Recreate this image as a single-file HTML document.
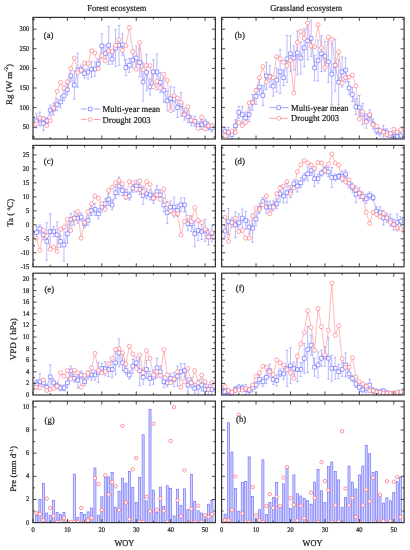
<!DOCTYPE html>
<html><head><meta charset="utf-8"><style>
html,body{margin:0;padding:0;background:#fff;width:410px;height:550px;overflow:hidden}
svg{display:block;filter:blur(0.3px)}
text{stroke:#222;stroke-width:0.22px;paint-order:stroke;text-rendering:geometricPrecision}
</style></head><body>
<svg width="410" height="550" viewBox="0 0 410 550" font-family="'Liberation Serif', 'Times New Roman', serif">
<rect width="410" height="550" fill="#fff"/>
<defs><clipPath id="ca"><rect x="33.0" y="17.4" width="182.4" height="121.6"/></clipPath><clipPath id="cb"><rect x="221.6" y="17.4" width="182.5" height="121.6"/></clipPath><clipPath id="cc"><rect x="33.0" y="145.4" width="182.4" height="121.4"/></clipPath><clipPath id="cd"><rect x="221.6" y="145.4" width="182.5" height="121.4"/></clipPath><clipPath id="ce"><rect x="33.0" y="273.2" width="182.4" height="121.8"/></clipPath><clipPath id="cf"><rect x="221.6" y="273.2" width="182.5" height="121.8"/></clipPath><clipPath id="cg"><rect x="33.0" y="401.1" width="182.4" height="121.5"/></clipPath><clipPath id="ch"><rect x="221.6" y="401.1" width="182.5" height="121.5"/></clipPath></defs>
<g clip-path="url(#ca)">
<path d="M36.44 113.82V127.82M35.14 113.82h2.6M35.14 127.82h2.6M39.88 112.04V126.04M38.58 112.04h2.6M38.58 126.04h2.6M43.32 116.48V130.48M42.02 116.48h2.6M42.02 130.48h2.6M46.77 117.82V123.82M45.47 117.82h2.6M45.47 123.82h2.6M50.21 105.17V115.17M48.91 105.17h2.6M48.91 115.17h2.6M53.65 103.06V115.06M52.35 103.06h2.6M52.35 115.06h2.6M57.09 98.62V110.62M55.79 98.62h2.6M55.79 110.62h2.6M60.53 95.96V107.96M59.23 95.96h2.6M59.23 107.96h2.6M63.97 90.75V100.75M62.67 90.75h2.6M62.67 100.75h2.6M67.42 84.76V94.76M66.12 84.76h2.6M66.12 94.76h2.6M70.86 69.78V81.78M69.56 69.78h2.6M69.56 81.78h2.6M74.3 71.1V99.1M73 71.1h2.6M73 99.1h2.6M77.74 53.24V87.24M76.44 53.24h2.6M76.44 87.24h2.6M81.18 65.13V73.13M79.88 65.13h2.6M79.88 73.13h2.6M84.62 69.07V78.07M83.32 69.07h2.6M83.32 78.07h2.6M88.06 65.01V79.01M86.76 65.01h2.6M86.76 79.01h2.6M91.51 61.13V77.13M90.21 61.13h2.6M90.21 77.13h2.6M94.95 62.13V76.13M93.65 62.13h2.6M93.65 76.13h2.6M98.39 59.03V69.03M97.09 59.03h2.6M97.09 69.03h2.6M101.83 33.84V57.84M100.53 33.84h2.6M100.53 57.84h2.6M105.27 45V62.2M103.97 45h2.6M103.97 62.2h2.6M108.71 26.39V64.39M107.41 26.39h2.6M107.41 64.39h2.6M112.15 54.15V64.15M110.85 54.15h2.6M110.85 64.15h2.6M115.6 29.56V66.56M114.3 29.56h2.6M114.3 66.56h2.6M119.04 25.39V65.39M117.74 25.39h2.6M117.74 65.39h2.6M122.48 33.73V55.73M121.18 33.73h2.6M121.18 55.73h2.6M125.92 59.58V75.58M124.62 59.58h2.6M124.62 75.58h2.6M129.36 58.36V72.36M128.06 58.36h2.6M128.06 72.36h2.6M132.8 52.26V68.26M131.5 52.26h2.6M131.5 68.26h2.6M136.25 46.04V70.04M134.95 46.04h2.6M134.95 70.04h2.6M139.69 47.97V76.97M138.39 47.97h2.6M138.39 76.97h2.6M143.13 63V101M141.83 63h2.6M141.83 101h2.6M146.57 54.16V90.76M145.27 54.16h2.6M145.27 90.76h2.6M150.01 78.88V94.88M148.71 78.88h2.6M148.71 94.88h2.6M153.45 59.8V83.8M152.15 59.8h2.6M152.15 83.8h2.6M156.89 54.01V90.01M155.59 54.01h2.6M155.59 90.01h2.6M160.34 72.44V92.44M159.04 72.44h2.6M159.04 92.44h2.6M163.78 78.2V102.2M162.48 78.2h2.6M162.48 102.2h2.6M167.22 90.85V110.85M165.92 90.85h2.6M165.92 110.85h2.6M170.66 86.63V110.63M169.36 86.63h2.6M169.36 110.63h2.6M174.1 87.08V111.08M172.8 87.08h2.6M172.8 111.08h2.6M177.54 97.51V117.51M176.24 97.51h2.6M176.24 117.51h2.6M180.98 92.62V116.62M179.68 92.62h2.6M179.68 116.62h2.6M184.43 108.16V120.16M183.13 108.16h2.6M183.13 120.16h2.6M187.87 110.82V122.82M186.57 110.82h2.6M186.57 122.82h2.6M191.31 115.82V125.82M190.01 115.82h2.6M190.01 125.82h2.6M194.75 116.26V126.26M193.45 116.26h2.6M193.45 126.26h2.6M198.19 121.7V129.7M196.89 121.7h2.6M196.89 129.7h2.6M201.63 119.59V129.59M200.33 119.59h2.6M200.33 129.59h2.6M205.08 119.03V127.03M203.78 119.03h2.6M203.78 127.03h2.6M208.52 122.14V130.14M207.22 122.14h2.6M207.22 130.14h2.6M211.96 123.91V131.91M210.66 123.91h2.6M210.66 131.91h2.6" stroke="#8a8aff" stroke-width="0.6" fill="none"/>
<polyline points="36.44,120.82 39.88,119.04 43.32,123.48 46.77,120.82 50.21,110.17 53.65,109.06 57.09,104.62 60.53,101.96 63.97,95.75 67.42,89.76 70.86,75.78 74.3,85.1 77.74,70.24 81.18,69.13 84.62,73.57 88.06,72.01 91.51,69.13 94.95,69.13 98.39,64.03 101.83,45.84 105.27,53.6 108.71,45.39 112.15,59.15 115.6,48.06 119.04,45.39 122.48,44.73 125.92,67.58 129.36,65.36 132.8,60.26 136.25,58.04 139.69,62.47 143.13,82 146.57,72.46 150.01,86.88 153.45,71.8 156.89,72.01 160.34,82.44 163.78,90.2 167.22,100.85 170.66,98.63 174.1,99.08 177.54,107.51 180.98,104.62 184.43,114.16 187.87,116.82 191.31,120.82 194.75,121.26 198.19,125.7 201.63,124.59 205.08,123.03 208.52,126.14 211.96,127.91" stroke="#8a8aff" stroke-width="0.6" fill="none"/>
<polyline points="36.44,123.92 39.88,117.93 43.32,118.6 46.77,125.7 50.21,120.82 53.65,107.95 57.09,91.31 60.53,82.44 63.97,87.98 67.42,81.77 70.86,68.46 74.3,58.04 77.74,72.46 81.18,70.24 84.62,63.14 88.06,63.58 91.51,50.72 94.95,52.94 98.39,68.69 101.83,55.82 105.27,60.92 108.71,50.94 112.15,51.38 115.6,45.39 119.04,39.63 122.48,50.27 125.92,45.84 129.36,27.65 132.8,51.38 136.25,69.13 139.69,42.51 143.13,69.8 146.57,65.36 150.01,65.6 153.45,86.88 156.89,81.33 160.34,87.98 163.78,74.23 167.22,80.22 170.66,110.61 174.1,95.75 177.54,97.97 180.98,102.4 184.43,114.6 187.87,106.84 191.31,120.15 194.75,121.26 198.19,128.36 201.63,117.27 205.08,129.02 208.52,125.7 211.96,125.7" stroke="#ff8c8c" stroke-width="0.6" fill="none"/>
<path d="M34.59 118.97h3.7v3.7h-3.7zM38.03 117.19h3.7v3.7h-3.7zM41.47 121.63h3.7v3.7h-3.7zM44.92 118.97h3.7v3.7h-3.7zM48.36 108.32h3.7v3.7h-3.7zM51.8 107.21h3.7v3.7h-3.7zM55.24 102.77h3.7v3.7h-3.7zM58.68 100.11h3.7v3.7h-3.7zM62.12 93.9h3.7v3.7h-3.7zM65.57 87.91h3.7v3.7h-3.7zM69.01 73.93h3.7v3.7h-3.7zM72.45 83.25h3.7v3.7h-3.7zM75.89 68.39h3.7v3.7h-3.7zM79.33 67.28h3.7v3.7h-3.7zM82.77 71.72h3.7v3.7h-3.7zM86.21 70.16h3.7v3.7h-3.7zM89.66 67.28h3.7v3.7h-3.7zM93.1 67.28h3.7v3.7h-3.7zM96.54 62.18h3.7v3.7h-3.7zM99.98 43.99h3.7v3.7h-3.7zM103.42 51.75h3.7v3.7h-3.7zM106.86 43.54h3.7v3.7h-3.7zM110.3 57.3h3.7v3.7h-3.7zM113.75 46.21h3.7v3.7h-3.7zM117.19 43.54h3.7v3.7h-3.7zM120.63 42.88h3.7v3.7h-3.7zM124.07 65.73h3.7v3.7h-3.7zM127.51 63.51h3.7v3.7h-3.7zM130.95 58.41h3.7v3.7h-3.7zM134.4 56.19h3.7v3.7h-3.7zM137.84 60.62h3.7v3.7h-3.7zM141.28 80.15h3.7v3.7h-3.7zM144.72 70.61h3.7v3.7h-3.7zM148.16 85.03h3.7v3.7h-3.7zM151.6 69.95h3.7v3.7h-3.7zM155.04 70.16h3.7v3.7h-3.7zM158.49 80.59h3.7v3.7h-3.7zM161.93 88.35h3.7v3.7h-3.7zM165.37 99h3.7v3.7h-3.7zM168.81 96.78h3.7v3.7h-3.7zM172.25 97.23h3.7v3.7h-3.7zM175.69 105.66h3.7v3.7h-3.7zM179.13 102.77h3.7v3.7h-3.7zM182.58 112.31h3.7v3.7h-3.7zM186.02 114.97h3.7v3.7h-3.7zM189.46 118.97h3.7v3.7h-3.7zM192.9 119.41h3.7v3.7h-3.7zM196.34 123.85h3.7v3.7h-3.7zM199.78 122.74h3.7v3.7h-3.7zM203.23 121.18h3.7v3.7h-3.7zM206.67 124.29h3.7v3.7h-3.7zM210.11 126.06h3.7v3.7h-3.7z" stroke="#6a6aff" stroke-width="0.65" fill="#fff"/>
<path d="M34.44 123.92a2.0 2.0 0 1 0 4 0a2.0 2.0 0 1 0 -4 0zM37.88 117.93a2.0 2.0 0 1 0 4 0a2.0 2.0 0 1 0 -4 0zM41.32 118.6a2.0 2.0 0 1 0 4 0a2.0 2.0 0 1 0 -4 0zM44.77 125.7a2.0 2.0 0 1 0 4 0a2.0 2.0 0 1 0 -4 0zM48.21 120.82a2.0 2.0 0 1 0 4 0a2.0 2.0 0 1 0 -4 0zM51.65 107.95a2.0 2.0 0 1 0 4 0a2.0 2.0 0 1 0 -4 0zM55.09 91.31a2.0 2.0 0 1 0 4 0a2.0 2.0 0 1 0 -4 0zM58.53 82.44a2.0 2.0 0 1 0 4 0a2.0 2.0 0 1 0 -4 0zM61.97 87.98a2.0 2.0 0 1 0 4 0a2.0 2.0 0 1 0 -4 0zM65.42 81.77a2.0 2.0 0 1 0 4 0a2.0 2.0 0 1 0 -4 0zM68.86 68.46a2.0 2.0 0 1 0 4 0a2.0 2.0 0 1 0 -4 0zM72.3 58.04a2.0 2.0 0 1 0 4 0a2.0 2.0 0 1 0 -4 0zM75.74 72.46a2.0 2.0 0 1 0 4 0a2.0 2.0 0 1 0 -4 0zM79.18 70.24a2.0 2.0 0 1 0 4 0a2.0 2.0 0 1 0 -4 0zM82.62 63.14a2.0 2.0 0 1 0 4 0a2.0 2.0 0 1 0 -4 0zM86.06 63.58a2.0 2.0 0 1 0 4 0a2.0 2.0 0 1 0 -4 0zM89.51 50.72a2.0 2.0 0 1 0 4 0a2.0 2.0 0 1 0 -4 0zM92.95 52.94a2.0 2.0 0 1 0 4 0a2.0 2.0 0 1 0 -4 0zM96.39 68.69a2.0 2.0 0 1 0 4 0a2.0 2.0 0 1 0 -4 0zM99.83 55.82a2.0 2.0 0 1 0 4 0a2.0 2.0 0 1 0 -4 0zM103.27 60.92a2.0 2.0 0 1 0 4 0a2.0 2.0 0 1 0 -4 0zM106.71 50.94a2.0 2.0 0 1 0 4 0a2.0 2.0 0 1 0 -4 0zM110.15 51.38a2.0 2.0 0 1 0 4 0a2.0 2.0 0 1 0 -4 0zM113.6 45.39a2.0 2.0 0 1 0 4 0a2.0 2.0 0 1 0 -4 0zM117.04 39.63a2.0 2.0 0 1 0 4 0a2.0 2.0 0 1 0 -4 0zM120.48 50.27a2.0 2.0 0 1 0 4 0a2.0 2.0 0 1 0 -4 0zM123.92 45.84a2.0 2.0 0 1 0 4 0a2.0 2.0 0 1 0 -4 0zM127.36 27.65a2.0 2.0 0 1 0 4 0a2.0 2.0 0 1 0 -4 0zM130.8 51.38a2.0 2.0 0 1 0 4 0a2.0 2.0 0 1 0 -4 0zM134.25 69.13a2.0 2.0 0 1 0 4 0a2.0 2.0 0 1 0 -4 0zM137.69 42.51a2.0 2.0 0 1 0 4 0a2.0 2.0 0 1 0 -4 0zM141.13 69.8a2.0 2.0 0 1 0 4 0a2.0 2.0 0 1 0 -4 0zM144.57 65.36a2.0 2.0 0 1 0 4 0a2.0 2.0 0 1 0 -4 0zM148.01 65.6a2.0 2.0 0 1 0 4 0a2.0 2.0 0 1 0 -4 0zM151.45 86.88a2.0 2.0 0 1 0 4 0a2.0 2.0 0 1 0 -4 0zM154.89 81.33a2.0 2.0 0 1 0 4 0a2.0 2.0 0 1 0 -4 0zM158.34 87.98a2.0 2.0 0 1 0 4 0a2.0 2.0 0 1 0 -4 0zM161.78 74.23a2.0 2.0 0 1 0 4 0a2.0 2.0 0 1 0 -4 0zM165.22 80.22a2.0 2.0 0 1 0 4 0a2.0 2.0 0 1 0 -4 0zM168.66 110.61a2.0 2.0 0 1 0 4 0a2.0 2.0 0 1 0 -4 0zM172.1 95.75a2.0 2.0 0 1 0 4 0a2.0 2.0 0 1 0 -4 0zM175.54 97.97a2.0 2.0 0 1 0 4 0a2.0 2.0 0 1 0 -4 0zM178.98 102.4a2.0 2.0 0 1 0 4 0a2.0 2.0 0 1 0 -4 0zM182.43 114.6a2.0 2.0 0 1 0 4 0a2.0 2.0 0 1 0 -4 0zM185.87 106.84a2.0 2.0 0 1 0 4 0a2.0 2.0 0 1 0 -4 0zM189.31 120.15a2.0 2.0 0 1 0 4 0a2.0 2.0 0 1 0 -4 0zM192.75 121.26a2.0 2.0 0 1 0 4 0a2.0 2.0 0 1 0 -4 0zM196.19 128.36a2.0 2.0 0 1 0 4 0a2.0 2.0 0 1 0 -4 0zM199.63 117.27a2.0 2.0 0 1 0 4 0a2.0 2.0 0 1 0 -4 0zM203.08 129.02a2.0 2.0 0 1 0 4 0a2.0 2.0 0 1 0 -4 0zM206.52 125.7a2.0 2.0 0 1 0 4 0a2.0 2.0 0 1 0 -4 0zM209.96 125.7a2.0 2.0 0 1 0 4 0a2.0 2.0 0 1 0 -4 0z" stroke="#ff7480" stroke-width="0.65" fill="#fff"/>
</g>
<g clip-path="url(#cb)">
<path d="M225.04 127.24V135.24M223.74 127.24h2.6M223.74 135.24h2.6M228.49 127.35V137.35M227.19 127.35h2.6M227.19 137.35h2.6M231.93 130.57V138.57M230.63 130.57h2.6M230.63 138.57h2.6M235.37 119.7V131.7M234.07 119.7h2.6M234.07 131.7h2.6M238.82 106.39V118.39M237.52 106.39h2.6M237.52 118.39h2.6M242.26 106.6V122.6M240.96 106.6h2.6M240.96 122.6h2.6M245.7 111.93V123.93M244.4 111.93h2.6M244.4 123.93h2.6M249.15 107.6V121.6M247.85 107.6h2.6M247.85 121.6h2.6M252.59 94.4V110.4M251.29 94.4h2.6M251.29 110.4h2.6M256.03 88.39V104.39M254.73 88.39h2.6M254.73 104.39h2.6M259.48 79V95M258.18 79h2.6M258.18 95h2.6M262.92 85.54V105.54M261.62 85.54h2.6M261.62 105.54h2.6M266.36 62.2V89.6M265.06 62.2h2.6M265.06 89.6h2.6M269.81 65.6V87.2M268.51 65.6h2.6M268.51 87.2h2.6M273.25 76.15V96.15M271.95 76.15h2.6M271.95 96.15h2.6M276.69 68.17V92.17M275.39 68.17h2.6M275.39 92.17h2.6M280.14 49.64V93.64M278.84 49.64h2.6M278.84 93.64h2.6M283.58 69.61V85.61M282.28 69.61h2.6M282.28 85.61h2.6M287.02 35.33V82.33M285.72 35.33h2.6M285.72 82.33h2.6M290.47 35.71V71.71M289.17 35.71h2.6M289.17 71.71h2.6M293.91 45.98V69.98M292.61 45.98h2.6M292.61 69.98h2.6M297.35 30.85V74.85M296.05 30.85h2.6M296.05 74.85h2.6M300.8 41.98V73.98M299.5 41.98h2.6M299.5 73.98h2.6M304.24 28.73V66.73M302.94 28.73h2.6M302.94 66.73h2.6M307.68 21.9V59.9M306.38 21.9h2.6M306.38 59.9h2.6M311.13 20.34V56.34M309.83 20.34h2.6M309.83 56.34h2.6M314.57 55.38V80.38M313.27 55.38h2.6M313.27 80.38h2.6M318.02 40.04V81.04M316.72 40.04h2.6M316.72 81.04h2.6M321.46 35.71V71.71M320.16 35.71h2.6M320.16 71.71h2.6M324.9 41.25V71.25M323.6 41.25h2.6M323.6 71.25h2.6M328.35 41.35V82.35M327.05 41.35h2.6M327.05 82.35h2.6M331.79 43.49V104.89M330.49 43.49h2.6M330.49 104.89h2.6M335.23 39.22V91.22M333.93 39.22h2.6M333.93 91.22h2.6M338.68 59.8V104.8M337.38 59.8h2.6M337.38 104.8h2.6M342.12 56.95V86.95M340.82 56.95h2.6M340.82 86.95h2.6M345.56 58.1V82.1M344.26 58.1h2.6M344.26 82.1h2.6M349.01 81.6V94.6M347.71 81.6h2.6M347.71 94.6h2.6M352.45 87.5V101.5M351.15 87.5h2.6M351.15 101.5h2.6M355.89 98.8V114.8M354.59 98.8h2.6M354.59 114.8h2.6M359.34 95.5V119.5M358.04 95.5h2.6M358.04 119.5h2.6M362.78 103.2V124.8M361.48 103.2h2.6M361.48 124.8h2.6M366.22 114.2V128.2M364.92 114.2h2.6M364.92 128.2h2.6M369.67 109.9V120.9M368.37 109.9h2.6M368.37 120.9h2.6M373.11 119V129M371.81 119h2.6M371.81 129h2.6M376.55 126.5V134.5M375.25 126.5h2.6M375.25 134.5h2.6M380 128V136M378.7 128h2.6M378.7 136h2.6M383.44 125.4V137M382.14 125.4h2.6M382.14 137h2.6M386.88 128.7V136.7M385.58 128.7h2.6M385.58 136.7h2.6M390.33 131.5V139.5M389.03 131.5h2.6M389.03 139.5h2.6M393.77 132.3V140.3M392.47 132.3h2.6M392.47 140.3h2.6M397.21 132.3V140.3M395.91 132.3h2.6M395.91 140.3h2.6M400.66 131.5V139.5M399.36 131.5h2.6M399.36 139.5h2.6" stroke="#8a8aff" stroke-width="0.6" fill="none"/>
<polyline points="225.04,131.24 228.49,132.35 231.93,134.57 235.37,125.7 238.82,112.39 242.26,114.6 245.7,117.93 249.15,114.6 252.59,102.4 256.03,96.39 259.48,87 262.92,95.54 266.36,75.9 269.81,76.4 273.25,86.15 276.69,80.17 280.14,71.64 283.58,77.61 287.02,58.83 290.47,53.71 293.91,57.98 297.35,52.85 300.8,57.98 304.24,47.73 307.68,40.9 311.13,38.34 314.57,67.88 318.02,60.54 321.46,53.71 324.9,56.25 328.35,61.85 331.79,74.19 335.23,65.22 338.68,82.3 342.12,71.95 345.56,70.1 349.01,88.1 352.45,94.5 355.89,106.8 359.34,107.5 362.78,114 366.22,121.2 369.67,115.4 373.11,124 376.55,130.5 380,132 383.44,131.2 386.88,132.7 390.33,135.5 393.77,136.3 397.21,136.3 400.66,135.5" stroke="#8a8aff" stroke-width="0.6" fill="none"/>
<polyline points="225.04,135.68 228.49,132.35 231.93,131.24 235.37,132.35 238.82,122.37 242.26,125.7 245.7,122.37 249.15,103 252.59,102.4 256.03,90.42 259.48,77.61 262.92,66.51 266.36,81.88 269.81,76.76 273.25,77.61 276.69,56.61 280.14,58.83 283.58,62.25 287.02,65.66 290.47,60.54 293.91,92.98 297.35,42.27 300.8,31.51 304.24,38.34 307.68,22.98 311.13,46.03 314.57,46.88 318.02,24.68 321.46,47.73 324.9,67.5 328.35,37.18 331.79,39.43 335.23,65.22 338.68,51.76 342.12,83.1 345.56,77.55 349.01,77.3 352.45,75.1 355.89,85.9 359.34,119 362.78,111.8 366.22,121.9 369.67,114.7 373.11,124.7 376.55,126.2 380,130.5 383.44,132 386.88,134.8 390.33,133.4 393.77,129.1 397.21,132 400.66,129.8" stroke="#ff8c8c" stroke-width="0.6" fill="none"/>
<path d="M223.19 129.39h3.7v3.7h-3.7zM226.64 130.5h3.7v3.7h-3.7zM230.08 132.72h3.7v3.7h-3.7zM233.52 123.85h3.7v3.7h-3.7zM236.97 110.54h3.7v3.7h-3.7zM240.41 112.75h3.7v3.7h-3.7zM243.85 116.08h3.7v3.7h-3.7zM247.3 112.75h3.7v3.7h-3.7zM250.74 100.55h3.7v3.7h-3.7zM254.18 94.54h3.7v3.7h-3.7zM257.63 85.15h3.7v3.7h-3.7zM261.07 93.69h3.7v3.7h-3.7zM264.51 74.05h3.7v3.7h-3.7zM267.96 74.55h3.7v3.7h-3.7zM271.4 84.3h3.7v3.7h-3.7zM274.84 78.32h3.7v3.7h-3.7zM278.29 69.79h3.7v3.7h-3.7zM281.73 75.76h3.7v3.7h-3.7zM285.17 56.98h3.7v3.7h-3.7zM288.62 51.86h3.7v3.7h-3.7zM292.06 56.13h3.7v3.7h-3.7zM295.5 51h3.7v3.7h-3.7zM298.95 56.13h3.7v3.7h-3.7zM302.39 45.88h3.7v3.7h-3.7zM305.83 39.05h3.7v3.7h-3.7zM309.28 36.49h3.7v3.7h-3.7zM312.72 66.03h3.7v3.7h-3.7zM316.17 58.69h3.7v3.7h-3.7zM319.61 51.86h3.7v3.7h-3.7zM323.05 54.4h3.7v3.7h-3.7zM326.5 60h3.7v3.7h-3.7zM329.94 72.34h3.7v3.7h-3.7zM333.38 63.37h3.7v3.7h-3.7zM336.83 80.45h3.7v3.7h-3.7zM340.27 70.1h3.7v3.7h-3.7zM343.71 68.25h3.7v3.7h-3.7zM347.16 86.25h3.7v3.7h-3.7zM350.6 92.65h3.7v3.7h-3.7zM354.04 104.95h3.7v3.7h-3.7zM357.49 105.65h3.7v3.7h-3.7zM360.93 112.15h3.7v3.7h-3.7zM364.37 119.35h3.7v3.7h-3.7zM367.82 113.55h3.7v3.7h-3.7zM371.26 122.15h3.7v3.7h-3.7zM374.7 128.65h3.7v3.7h-3.7zM378.15 130.15h3.7v3.7h-3.7zM381.59 129.35h3.7v3.7h-3.7zM385.03 130.85h3.7v3.7h-3.7zM388.48 133.65h3.7v3.7h-3.7zM391.92 134.45h3.7v3.7h-3.7zM395.36 134.45h3.7v3.7h-3.7zM398.81 133.65h3.7v3.7h-3.7z" stroke="#6a6aff" stroke-width="0.65" fill="#fff"/>
<path d="M223.04 135.68a2.0 2.0 0 1 0 4 0a2.0 2.0 0 1 0 -4 0zM226.49 132.35a2.0 2.0 0 1 0 4 0a2.0 2.0 0 1 0 -4 0zM229.93 131.24a2.0 2.0 0 1 0 4 0a2.0 2.0 0 1 0 -4 0zM233.37 132.35a2.0 2.0 0 1 0 4 0a2.0 2.0 0 1 0 -4 0zM236.82 122.37a2.0 2.0 0 1 0 4 0a2.0 2.0 0 1 0 -4 0zM240.26 125.7a2.0 2.0 0 1 0 4 0a2.0 2.0 0 1 0 -4 0zM243.7 122.37a2.0 2.0 0 1 0 4 0a2.0 2.0 0 1 0 -4 0zM247.15 103a2.0 2.0 0 1 0 4 0a2.0 2.0 0 1 0 -4 0zM250.59 102.4a2.0 2.0 0 1 0 4 0a2.0 2.0 0 1 0 -4 0zM254.03 90.42a2.0 2.0 0 1 0 4 0a2.0 2.0 0 1 0 -4 0zM257.48 77.61a2.0 2.0 0 1 0 4 0a2.0 2.0 0 1 0 -4 0zM260.92 66.51a2.0 2.0 0 1 0 4 0a2.0 2.0 0 1 0 -4 0zM264.36 81.88a2.0 2.0 0 1 0 4 0a2.0 2.0 0 1 0 -4 0zM267.81 76.76a2.0 2.0 0 1 0 4 0a2.0 2.0 0 1 0 -4 0zM271.25 77.61a2.0 2.0 0 1 0 4 0a2.0 2.0 0 1 0 -4 0zM274.69 56.61a2.0 2.0 0 1 0 4 0a2.0 2.0 0 1 0 -4 0zM278.14 58.83a2.0 2.0 0 1 0 4 0a2.0 2.0 0 1 0 -4 0zM281.58 62.25a2.0 2.0 0 1 0 4 0a2.0 2.0 0 1 0 -4 0zM285.02 65.66a2.0 2.0 0 1 0 4 0a2.0 2.0 0 1 0 -4 0zM288.47 60.54a2.0 2.0 0 1 0 4 0a2.0 2.0 0 1 0 -4 0zM291.91 92.98a2.0 2.0 0 1 0 4 0a2.0 2.0 0 1 0 -4 0zM295.35 42.27a2.0 2.0 0 1 0 4 0a2.0 2.0 0 1 0 -4 0zM298.8 31.51a2.0 2.0 0 1 0 4 0a2.0 2.0 0 1 0 -4 0zM302.24 38.34a2.0 2.0 0 1 0 4 0a2.0 2.0 0 1 0 -4 0zM305.68 22.98a2.0 2.0 0 1 0 4 0a2.0 2.0 0 1 0 -4 0zM309.13 46.03a2.0 2.0 0 1 0 4 0a2.0 2.0 0 1 0 -4 0zM312.57 46.88a2.0 2.0 0 1 0 4 0a2.0 2.0 0 1 0 -4 0zM316.02 24.68a2.0 2.0 0 1 0 4 0a2.0 2.0 0 1 0 -4 0zM319.46 47.73a2.0 2.0 0 1 0 4 0a2.0 2.0 0 1 0 -4 0zM322.9 67.5a2.0 2.0 0 1 0 4 0a2.0 2.0 0 1 0 -4 0zM326.35 37.18a2.0 2.0 0 1 0 4 0a2.0 2.0 0 1 0 -4 0zM329.79 39.43a2.0 2.0 0 1 0 4 0a2.0 2.0 0 1 0 -4 0zM333.23 65.22a2.0 2.0 0 1 0 4 0a2.0 2.0 0 1 0 -4 0zM336.68 51.76a2.0 2.0 0 1 0 4 0a2.0 2.0 0 1 0 -4 0zM340.12 83.1a2.0 2.0 0 1 0 4 0a2.0 2.0 0 1 0 -4 0zM343.56 77.55a2.0 2.0 0 1 0 4 0a2.0 2.0 0 1 0 -4 0zM347.01 77.3a2.0 2.0 0 1 0 4 0a2.0 2.0 0 1 0 -4 0zM350.45 75.1a2.0 2.0 0 1 0 4 0a2.0 2.0 0 1 0 -4 0zM353.89 85.9a2.0 2.0 0 1 0 4 0a2.0 2.0 0 1 0 -4 0zM357.34 119a2.0 2.0 0 1 0 4 0a2.0 2.0 0 1 0 -4 0zM360.78 111.8a2.0 2.0 0 1 0 4 0a2.0 2.0 0 1 0 -4 0zM364.22 121.9a2.0 2.0 0 1 0 4 0a2.0 2.0 0 1 0 -4 0zM367.67 114.7a2.0 2.0 0 1 0 4 0a2.0 2.0 0 1 0 -4 0zM371.11 124.7a2.0 2.0 0 1 0 4 0a2.0 2.0 0 1 0 -4 0zM374.55 126.2a2.0 2.0 0 1 0 4 0a2.0 2.0 0 1 0 -4 0zM378 130.5a2.0 2.0 0 1 0 4 0a2.0 2.0 0 1 0 -4 0zM381.44 132a2.0 2.0 0 1 0 4 0a2.0 2.0 0 1 0 -4 0zM384.88 134.8a2.0 2.0 0 1 0 4 0a2.0 2.0 0 1 0 -4 0zM388.33 133.4a2.0 2.0 0 1 0 4 0a2.0 2.0 0 1 0 -4 0zM391.77 129.1a2.0 2.0 0 1 0 4 0a2.0 2.0 0 1 0 -4 0zM395.21 132a2.0 2.0 0 1 0 4 0a2.0 2.0 0 1 0 -4 0zM398.66 129.8a2.0 2.0 0 1 0 4 0a2.0 2.0 0 1 0 -4 0z" stroke="#ff7480" stroke-width="0.65" fill="#fff"/>
</g>
<g clip-path="url(#cc)">
<path d="M36.44 226.12V239.12M35.14 226.12h2.6M35.14 239.12h2.6M39.88 224.85V232.85M38.58 224.85h2.6M38.58 232.85h2.6M43.32 229.84V239.84M42.02 229.84h2.6M42.02 239.84h2.6M46.77 222.7V260.3M45.47 222.7h2.6M45.47 260.3h2.6M50.21 213.81V249.21M48.91 213.81h2.6M48.91 249.21h2.6M53.65 226.51V236.51M52.35 226.51h2.6M52.35 236.51h2.6M57.09 221.84V247.84M55.79 221.84h2.6M55.79 247.84h2.6M60.53 235.5V247.5M59.23 235.5h2.6M59.23 247.5h2.6M63.97 228.42V261.22M62.67 228.42h2.6M62.67 261.22h2.6M67.42 224.23V243.23M66.12 224.23h2.6M66.12 243.23h2.6M70.86 213.31V225.31M69.56 213.31h2.6M69.56 225.31h2.6M74.3 211.2V225.2M73 211.2h2.6M73 225.2h2.6M77.74 213.2V223.2M76.44 213.2h2.6M76.44 223.2h2.6M81.18 213.09V221.09M79.88 213.09h2.6M79.88 221.09h2.6M84.62 219.75V227.75M83.32 219.75h2.6M83.32 227.75h2.6M88.06 215.42V225.42M86.76 215.42h2.6M86.76 225.42h2.6M91.51 205.44V215.44M90.21 205.44h2.6M90.21 215.44h2.6M94.95 203.33V215.33M93.65 203.33h2.6M93.65 215.33h2.6M98.39 208.77V218.77M97.09 208.77h2.6M97.09 218.77h2.6M101.83 202.11V212.11M100.53 202.11h2.6M100.53 212.11h2.6M105.27 198.78V208.78M103.97 198.78h2.6M103.97 208.78h2.6M108.71 193.35V205.35M107.41 193.35h2.6M107.41 205.35h2.6M112.15 199.89V209.89M110.85 199.89h2.6M110.85 209.89h2.6M115.6 186.69V198.69M114.3 186.69h2.6M114.3 198.69h2.6M119.04 177.04V195.04M117.74 177.04h2.6M117.74 195.04h2.6M122.48 185.47V195.47M121.18 185.47h2.6M121.18 195.47h2.6M125.92 189.25V199.25M124.62 189.25h2.6M124.62 199.25h2.6M129.36 192.02V200.02M128.06 192.02h2.6M128.06 200.02h2.6M132.8 184.26V192.26M131.5 184.26h2.6M131.5 192.26h2.6M136.25 180.04V192.04M134.95 180.04h2.6M134.95 192.04h2.6M139.69 184.37V194.37M138.39 184.37h2.6M138.39 194.37h2.6M143.13 186.58V204.58M141.83 186.58h2.6M141.83 204.58h2.6M146.57 188.8V198.8M145.27 188.8h2.6M145.27 198.8h2.6M150.01 189.91V199.91M148.71 189.91h2.6M148.71 199.91h2.6M153.45 193.24V203.24M152.15 193.24h2.6M152.15 203.24h2.6M156.89 185.58V197.58M155.59 185.58h2.6M155.59 197.58h2.6M160.34 189.91V199.91M159.04 189.91h2.6M159.04 199.91h2.6M163.78 197.89V211.89M162.48 197.89h2.6M162.48 211.89h2.6M167.22 201.66V223.66M165.92 201.66h2.6M165.92 223.66h2.6M170.66 201.11V213.11M169.36 201.11h2.6M169.36 213.11h2.6M174.1 197.11V217.11M172.8 197.11h2.6M172.8 217.11h2.6M177.54 204.44V216.44M176.24 204.44h2.6M176.24 216.44h2.6M180.98 197.89V211.89M179.68 197.89h2.6M179.68 211.89h2.6M184.43 197.89V211.89M183.13 197.89h2.6M183.13 211.89h2.6M187.87 216.75V230.75M186.57 216.75h2.6M186.57 230.75h2.6M191.31 215.75V231.75M190.01 215.75h2.6M190.01 231.75h2.6M194.75 220.73V246.73M193.45 220.73h2.6M193.45 246.73h2.6M198.19 220.4V240.4M196.89 220.4h2.6M196.89 240.4h2.6M201.63 223.51V239.51M200.33 223.51h2.6M200.33 239.51h2.6M205.08 219.4V241.4M203.78 219.4h2.6M203.78 241.4h2.6M208.52 229.06V245.06M207.22 229.06h2.6M207.22 245.06h2.6M211.96 225.73V241.73M210.66 225.73h2.6M210.66 241.73h2.6" stroke="#8a8aff" stroke-width="0.6" fill="none"/>
<polyline points="36.44,232.62 39.88,228.85 43.32,234.84 46.77,241.5 50.21,231.51 53.65,231.51 57.09,234.84 60.53,241.5 63.97,244.82 67.42,233.73 70.86,219.31 74.3,218.2 77.74,218.2 81.18,217.09 84.62,223.75 88.06,220.42 91.51,210.44 94.95,209.33 98.39,213.77 101.83,207.11 105.27,203.78 108.71,199.35 112.15,204.89 115.6,192.69 119.04,186.04 122.48,190.47 125.92,194.25 129.36,196.02 132.8,188.26 136.25,186.04 139.69,189.37 143.13,195.58 146.57,193.8 150.01,194.91 153.45,198.24 156.89,191.58 160.34,194.91 163.78,204.89 167.22,212.66 170.66,207.11 174.1,207.11 177.54,210.44 180.98,204.89 184.43,204.89 187.87,223.75 191.31,223.75 194.75,233.73 198.19,230.4 201.63,231.51 205.08,230.4 208.52,237.06 211.96,233.73" stroke="#8a8aff" stroke-width="0.6" fill="none"/>
<polyline points="36.44,238.17 39.88,250.37 43.32,230.4 46.77,235.95 50.21,249.26 53.65,247.04 57.09,251.48 60.53,229.29 63.97,227.08 67.42,219.31 70.86,230.4 74.3,218.2 77.74,211.55 81.18,238.17 84.62,222.64 88.06,211.55 91.51,203.78 94.95,196.02 98.39,198.24 101.83,203.78 105.27,209.33 108.71,190.47 112.15,187.15 115.6,182.71 119.04,180.49 122.48,183.82 125.92,197.13 129.36,181.6 132.8,182.71 136.25,189.37 139.69,180.94 143.13,191.58 146.57,181.6 150.01,184.49 153.45,198.24 156.89,194.91 160.34,199.35 163.78,188.92 167.22,204.45 170.66,211.1 174.1,213.77 177.54,213.77 180.98,234.84 184.43,221.53 187.87,217.09 191.31,221.53 194.75,207.56 198.19,220.42 201.63,222.64 205.08,229.29 208.52,237.06 211.96,232.62" stroke="#ff8c8c" stroke-width="0.6" fill="none"/>
<path d="M34.59 230.77h3.7v3.7h-3.7zM38.03 227h3.7v3.7h-3.7zM41.47 232.99h3.7v3.7h-3.7zM44.92 239.65h3.7v3.7h-3.7zM48.36 229.66h3.7v3.7h-3.7zM51.8 229.66h3.7v3.7h-3.7zM55.24 232.99h3.7v3.7h-3.7zM58.68 239.65h3.7v3.7h-3.7zM62.12 242.97h3.7v3.7h-3.7zM65.57 231.88h3.7v3.7h-3.7zM69.01 217.46h3.7v3.7h-3.7zM72.45 216.35h3.7v3.7h-3.7zM75.89 216.35h3.7v3.7h-3.7zM79.33 215.24h3.7v3.7h-3.7zM82.77 221.9h3.7v3.7h-3.7zM86.21 218.57h3.7v3.7h-3.7zM89.66 208.59h3.7v3.7h-3.7zM93.1 207.48h3.7v3.7h-3.7zM96.54 211.92h3.7v3.7h-3.7zM99.98 205.26h3.7v3.7h-3.7zM103.42 201.93h3.7v3.7h-3.7zM106.86 197.5h3.7v3.7h-3.7zM110.3 203.04h3.7v3.7h-3.7zM113.75 190.84h3.7v3.7h-3.7zM117.19 184.19h3.7v3.7h-3.7zM120.63 188.62h3.7v3.7h-3.7zM124.07 192.4h3.7v3.7h-3.7zM127.51 194.17h3.7v3.7h-3.7zM130.95 186.41h3.7v3.7h-3.7zM134.4 184.19h3.7v3.7h-3.7zM137.84 187.52h3.7v3.7h-3.7zM141.28 193.73h3.7v3.7h-3.7zM144.72 191.95h3.7v3.7h-3.7zM148.16 193.06h3.7v3.7h-3.7zM151.6 196.39h3.7v3.7h-3.7zM155.04 189.73h3.7v3.7h-3.7zM158.49 193.06h3.7v3.7h-3.7zM161.93 203.04h3.7v3.7h-3.7zM165.37 210.81h3.7v3.7h-3.7zM168.81 205.26h3.7v3.7h-3.7zM172.25 205.26h3.7v3.7h-3.7zM175.69 208.59h3.7v3.7h-3.7zM179.13 203.04h3.7v3.7h-3.7zM182.58 203.04h3.7v3.7h-3.7zM186.02 221.9h3.7v3.7h-3.7zM189.46 221.9h3.7v3.7h-3.7zM192.9 231.88h3.7v3.7h-3.7zM196.34 228.55h3.7v3.7h-3.7zM199.78 229.66h3.7v3.7h-3.7zM203.23 228.55h3.7v3.7h-3.7zM206.67 235.21h3.7v3.7h-3.7zM210.11 231.88h3.7v3.7h-3.7z" stroke="#6a6aff" stroke-width="0.65" fill="#fff"/>
<path d="M34.44 238.17a2.0 2.0 0 1 0 4 0a2.0 2.0 0 1 0 -4 0zM37.88 250.37a2.0 2.0 0 1 0 4 0a2.0 2.0 0 1 0 -4 0zM41.32 230.4a2.0 2.0 0 1 0 4 0a2.0 2.0 0 1 0 -4 0zM44.77 235.95a2.0 2.0 0 1 0 4 0a2.0 2.0 0 1 0 -4 0zM48.21 249.26a2.0 2.0 0 1 0 4 0a2.0 2.0 0 1 0 -4 0zM51.65 247.04a2.0 2.0 0 1 0 4 0a2.0 2.0 0 1 0 -4 0zM55.09 251.48a2.0 2.0 0 1 0 4 0a2.0 2.0 0 1 0 -4 0zM58.53 229.29a2.0 2.0 0 1 0 4 0a2.0 2.0 0 1 0 -4 0zM61.97 227.08a2.0 2.0 0 1 0 4 0a2.0 2.0 0 1 0 -4 0zM65.42 219.31a2.0 2.0 0 1 0 4 0a2.0 2.0 0 1 0 -4 0zM68.86 230.4a2.0 2.0 0 1 0 4 0a2.0 2.0 0 1 0 -4 0zM72.3 218.2a2.0 2.0 0 1 0 4 0a2.0 2.0 0 1 0 -4 0zM75.74 211.55a2.0 2.0 0 1 0 4 0a2.0 2.0 0 1 0 -4 0zM79.18 238.17a2.0 2.0 0 1 0 4 0a2.0 2.0 0 1 0 -4 0zM82.62 222.64a2.0 2.0 0 1 0 4 0a2.0 2.0 0 1 0 -4 0zM86.06 211.55a2.0 2.0 0 1 0 4 0a2.0 2.0 0 1 0 -4 0zM89.51 203.78a2.0 2.0 0 1 0 4 0a2.0 2.0 0 1 0 -4 0zM92.95 196.02a2.0 2.0 0 1 0 4 0a2.0 2.0 0 1 0 -4 0zM96.39 198.24a2.0 2.0 0 1 0 4 0a2.0 2.0 0 1 0 -4 0zM99.83 203.78a2.0 2.0 0 1 0 4 0a2.0 2.0 0 1 0 -4 0zM103.27 209.33a2.0 2.0 0 1 0 4 0a2.0 2.0 0 1 0 -4 0zM106.71 190.47a2.0 2.0 0 1 0 4 0a2.0 2.0 0 1 0 -4 0zM110.15 187.15a2.0 2.0 0 1 0 4 0a2.0 2.0 0 1 0 -4 0zM113.6 182.71a2.0 2.0 0 1 0 4 0a2.0 2.0 0 1 0 -4 0zM117.04 180.49a2.0 2.0 0 1 0 4 0a2.0 2.0 0 1 0 -4 0zM120.48 183.82a2.0 2.0 0 1 0 4 0a2.0 2.0 0 1 0 -4 0zM123.92 197.13a2.0 2.0 0 1 0 4 0a2.0 2.0 0 1 0 -4 0zM127.36 181.6a2.0 2.0 0 1 0 4 0a2.0 2.0 0 1 0 -4 0zM130.8 182.71a2.0 2.0 0 1 0 4 0a2.0 2.0 0 1 0 -4 0zM134.25 189.37a2.0 2.0 0 1 0 4 0a2.0 2.0 0 1 0 -4 0zM137.69 180.94a2.0 2.0 0 1 0 4 0a2.0 2.0 0 1 0 -4 0zM141.13 191.58a2.0 2.0 0 1 0 4 0a2.0 2.0 0 1 0 -4 0zM144.57 181.6a2.0 2.0 0 1 0 4 0a2.0 2.0 0 1 0 -4 0zM148.01 184.49a2.0 2.0 0 1 0 4 0a2.0 2.0 0 1 0 -4 0zM151.45 198.24a2.0 2.0 0 1 0 4 0a2.0 2.0 0 1 0 -4 0zM154.89 194.91a2.0 2.0 0 1 0 4 0a2.0 2.0 0 1 0 -4 0zM158.34 199.35a2.0 2.0 0 1 0 4 0a2.0 2.0 0 1 0 -4 0zM161.78 188.92a2.0 2.0 0 1 0 4 0a2.0 2.0 0 1 0 -4 0zM165.22 204.45a2.0 2.0 0 1 0 4 0a2.0 2.0 0 1 0 -4 0zM168.66 211.1a2.0 2.0 0 1 0 4 0a2.0 2.0 0 1 0 -4 0zM172.1 213.77a2.0 2.0 0 1 0 4 0a2.0 2.0 0 1 0 -4 0zM175.54 213.77a2.0 2.0 0 1 0 4 0a2.0 2.0 0 1 0 -4 0zM178.98 234.84a2.0 2.0 0 1 0 4 0a2.0 2.0 0 1 0 -4 0zM182.43 221.53a2.0 2.0 0 1 0 4 0a2.0 2.0 0 1 0 -4 0zM185.87 217.09a2.0 2.0 0 1 0 4 0a2.0 2.0 0 1 0 -4 0zM189.31 221.53a2.0 2.0 0 1 0 4 0a2.0 2.0 0 1 0 -4 0zM192.75 207.56a2.0 2.0 0 1 0 4 0a2.0 2.0 0 1 0 -4 0zM196.19 220.42a2.0 2.0 0 1 0 4 0a2.0 2.0 0 1 0 -4 0zM199.63 222.64a2.0 2.0 0 1 0 4 0a2.0 2.0 0 1 0 -4 0zM203.08 229.29a2.0 2.0 0 1 0 4 0a2.0 2.0 0 1 0 -4 0zM206.52 237.06a2.0 2.0 0 1 0 4 0a2.0 2.0 0 1 0 -4 0zM209.96 232.62a2.0 2.0 0 1 0 4 0a2.0 2.0 0 1 0 -4 0z" stroke="#ff7480" stroke-width="0.65" fill="#fff"/>
</g>
<g clip-path="url(#cd)">
<path d="M225.04 225.1V237.1M223.74 225.1h2.6M223.74 237.1h2.6M228.49 208.53V234.53M227.19 208.53h2.6M227.19 234.53h2.6M231.93 217.64V227.64M230.63 217.64h2.6M230.63 227.64h2.6M235.37 211.86V237.86M234.07 211.86h2.6M234.07 237.86h2.6M238.82 213.9V231.9M237.52 213.9h2.6M237.52 231.9h2.6M242.26 209.2V227.2M240.96 209.2h2.6M240.96 227.2h2.6M245.7 211.42V229.42M244.4 211.42h2.6M244.4 229.42h2.6M249.15 220.08V234.08M247.85 220.08h2.6M247.85 234.08h2.6M252.59 214.19V242.19M251.29 214.19h2.6M251.29 242.19h2.6M256.03 212.1V226.1M254.73 212.1h2.6M254.73 226.1h2.6M259.48 203.22V213.22M258.18 203.22h2.6M258.18 213.22h2.6M262.92 197.57V205.57M261.62 197.57h2.6M261.62 205.57h2.6M266.36 201.11V213.11M265.06 201.11h2.6M265.06 213.11h2.6M269.81 201.11V213.11M268.51 201.11h2.6M268.51 213.11h2.6M273.25 201V211M271.95 201h2.6M271.95 211h2.6M276.69 198.78V208.78M275.39 198.78h2.6M275.39 208.78h2.6M280.14 185.8V201.8M278.84 185.8h2.6M278.84 201.8h2.6M283.58 189.02V203.02M282.28 189.02h2.6M282.28 203.02h2.6M287.02 182.69V202.69M285.72 182.69h2.6M285.72 202.69h2.6M290.47 185.58V197.58M289.17 185.58h2.6M289.17 197.58h2.6M293.91 179.82V187.82M292.61 179.82h2.6M292.61 187.82h2.6M297.35 180.04V192.04M296.05 180.04h2.6M296.05 192.04h2.6M300.8 177.71V187.71M299.5 177.71h2.6M299.5 187.71h2.6M304.24 173.17V181.17M302.94 173.17h2.6M302.94 181.17h2.6M307.68 166.84V180.84M306.38 166.84h2.6M306.38 180.84h2.6M311.13 165.51V175.51M309.83 165.51h2.6M309.83 175.51h2.6M314.57 170.64V186.64M313.27 170.64h2.6M313.27 186.64h2.6M318.02 174.14V183.14M316.72 174.14h2.6M316.72 183.14h2.6M321.46 170.03V176.03M320.16 170.03h2.6M320.16 176.03h2.6M324.9 166.17V173.17M323.6 166.17h2.6M323.6 173.17h2.6M328.35 167.41V176.41M327.05 167.41h2.6M327.05 176.41h2.6M331.79 167.52V187.52M330.49 167.52h2.6M330.49 187.52h2.6M335.23 174.02V181.02M333.93 174.02h2.6M333.93 181.02h2.6M338.68 173.4V179.4M337.38 173.4h2.6M337.38 179.4h2.6M342.12 170.9V181.9M340.82 170.9h2.6M340.82 181.9h2.6M345.56 170.15V178.15M344.26 170.15h2.6M344.26 178.15h2.6M349.01 178.63V187.63M347.71 178.63h2.6M347.71 187.63h2.6M352.45 183.11V192.11M351.15 183.11h2.6M351.15 192.11h2.6M355.89 185.84V202.84M354.59 185.84h2.6M354.59 202.84h2.6M359.34 187.72V198.72M358.04 187.72h2.6M358.04 198.72h2.6M362.78 192.08V201.08M361.48 192.08h2.6M361.48 201.08h2.6M366.22 194.32V203.32M364.92 194.32h2.6M364.92 203.32h2.6M369.67 191.96V198.96M368.37 191.96h2.6M368.37 198.96h2.6M373.11 194.7V200.7M371.81 194.7h2.6M371.81 200.7h2.6M376.55 206.66V215.66M375.25 206.66h2.6M375.25 215.66h2.6M380 206.78V217.78M378.7 206.78h2.6M378.7 217.78h2.6M383.44 210.89V224.89M382.14 210.89h2.6M382.14 224.89h2.6M386.88 213.39V222.39M385.58 213.39h2.6M385.58 222.39h2.6M390.33 214.13V226.13M389.03 214.13h2.6M389.03 226.13h2.6M393.77 219.11V230.11M392.47 219.11h2.6M392.47 230.11h2.6M397.21 213.87V230.87M395.91 213.87h2.6M395.91 230.87h2.6M400.66 216.75V225.75M399.36 216.75h2.6M399.36 225.75h2.6" stroke="#8a8aff" stroke-width="0.6" fill="none"/>
<polyline points="225.04,231.1 228.49,221.53 231.93,222.64 235.37,224.86 238.82,222.9 242.26,218.2 245.7,220.42 249.15,227.08 252.59,228.19 256.03,219.1 259.48,208.22 262.92,201.57 266.36,207.11 269.81,207.11 273.25,206 276.69,203.78 280.14,193.8 283.58,196.02 287.02,192.69 290.47,191.58 293.91,183.82 297.35,186.04 300.8,182.71 304.24,177.17 307.68,173.84 311.13,170.51 314.57,178.64 318.02,178.64 321.46,173.03 324.9,169.67 328.35,171.91 331.79,177.52 335.23,177.52 338.68,176.4 342.12,176.4 345.56,174.15 349.01,183.13 352.45,187.61 355.89,194.34 359.34,193.22 362.78,196.58 366.22,198.82 369.67,195.46 373.11,197.7 376.55,211.16 380,212.28 383.44,217.89 386.88,217.89 390.33,220.13 393.77,224.61 397.21,222.37 400.66,221.25" stroke="#8a8aff" stroke-width="0.6" fill="none"/>
<polyline points="225.04,217.09 228.49,241.5 231.93,222.64 235.37,218.2 238.82,231.6 242.26,230.4 245.7,238.17 249.15,238.17 252.59,215.98 256.03,208.22 259.48,209.33 262.92,204.89 266.36,196.02 269.81,213.77 273.25,207.11 276.69,193.8 280.14,188.26 283.58,186.04 287.02,181.6 290.47,193.8 293.91,188.26 297.35,171.62 300.8,164.96 304.24,160.53 307.68,162.75 311.13,164.96 314.57,168.55 318.02,162.49 321.46,162.94 324.9,170.79 328.35,164.06 331.79,153.97 335.23,162.94 338.68,165.18 342.12,178.64 345.56,182 349.01,179.76 352.45,186.49 355.89,189.85 359.34,193.22 362.78,196.58 366.22,212.28 369.67,223.49 373.11,212.28 376.55,214.52 380,216.76 383.44,213.4 386.88,217.89 390.33,222.37 393.77,224.61 397.21,227.98 400.66,229.1" stroke="#ff8c8c" stroke-width="0.6" fill="none"/>
<path d="M223.19 229.25h3.7v3.7h-3.7zM226.64 219.68h3.7v3.7h-3.7zM230.08 220.79h3.7v3.7h-3.7zM233.52 223.01h3.7v3.7h-3.7zM236.97 221.05h3.7v3.7h-3.7zM240.41 216.35h3.7v3.7h-3.7zM243.85 218.57h3.7v3.7h-3.7zM247.3 225.23h3.7v3.7h-3.7zM250.74 226.34h3.7v3.7h-3.7zM254.18 217.25h3.7v3.7h-3.7zM257.63 206.37h3.7v3.7h-3.7zM261.07 199.72h3.7v3.7h-3.7zM264.51 205.26h3.7v3.7h-3.7zM267.96 205.26h3.7v3.7h-3.7zM271.4 204.15h3.7v3.7h-3.7zM274.84 201.93h3.7v3.7h-3.7zM278.29 191.95h3.7v3.7h-3.7zM281.73 194.17h3.7v3.7h-3.7zM285.17 190.84h3.7v3.7h-3.7zM288.62 189.73h3.7v3.7h-3.7zM292.06 181.97h3.7v3.7h-3.7zM295.5 184.19h3.7v3.7h-3.7zM298.95 180.86h3.7v3.7h-3.7zM302.39 175.32h3.7v3.7h-3.7zM305.83 171.99h3.7v3.7h-3.7zM309.28 168.66h3.7v3.7h-3.7zM312.72 176.79h3.7v3.7h-3.7zM316.17 176.79h3.7v3.7h-3.7zM319.61 171.18h3.7v3.7h-3.7zM323.05 167.82h3.7v3.7h-3.7zM326.5 170.06h3.7v3.7h-3.7zM329.94 175.67h3.7v3.7h-3.7zM333.38 175.67h3.7v3.7h-3.7zM336.83 174.55h3.7v3.7h-3.7zM340.27 174.55h3.7v3.7h-3.7zM343.71 172.3h3.7v3.7h-3.7zM347.16 181.28h3.7v3.7h-3.7zM350.6 185.76h3.7v3.7h-3.7zM354.04 192.49h3.7v3.7h-3.7zM357.49 191.37h3.7v3.7h-3.7zM360.93 194.73h3.7v3.7h-3.7zM364.37 196.97h3.7v3.7h-3.7zM367.82 193.61h3.7v3.7h-3.7zM371.26 195.85h3.7v3.7h-3.7zM374.7 209.31h3.7v3.7h-3.7zM378.15 210.43h3.7v3.7h-3.7zM381.59 216.04h3.7v3.7h-3.7zM385.03 216.04h3.7v3.7h-3.7zM388.48 218.28h3.7v3.7h-3.7zM391.92 222.76h3.7v3.7h-3.7zM395.36 220.52h3.7v3.7h-3.7zM398.81 219.4h3.7v3.7h-3.7z" stroke="#6a6aff" stroke-width="0.65" fill="#fff"/>
<path d="M223.04 217.09a2.0 2.0 0 1 0 4 0a2.0 2.0 0 1 0 -4 0zM226.49 241.5a2.0 2.0 0 1 0 4 0a2.0 2.0 0 1 0 -4 0zM229.93 222.64a2.0 2.0 0 1 0 4 0a2.0 2.0 0 1 0 -4 0zM233.37 218.2a2.0 2.0 0 1 0 4 0a2.0 2.0 0 1 0 -4 0zM236.82 231.6a2.0 2.0 0 1 0 4 0a2.0 2.0 0 1 0 -4 0zM240.26 230.4a2.0 2.0 0 1 0 4 0a2.0 2.0 0 1 0 -4 0zM243.7 238.17a2.0 2.0 0 1 0 4 0a2.0 2.0 0 1 0 -4 0zM247.15 238.17a2.0 2.0 0 1 0 4 0a2.0 2.0 0 1 0 -4 0zM250.59 215.98a2.0 2.0 0 1 0 4 0a2.0 2.0 0 1 0 -4 0zM254.03 208.22a2.0 2.0 0 1 0 4 0a2.0 2.0 0 1 0 -4 0zM257.48 209.33a2.0 2.0 0 1 0 4 0a2.0 2.0 0 1 0 -4 0zM260.92 204.89a2.0 2.0 0 1 0 4 0a2.0 2.0 0 1 0 -4 0zM264.36 196.02a2.0 2.0 0 1 0 4 0a2.0 2.0 0 1 0 -4 0zM267.81 213.77a2.0 2.0 0 1 0 4 0a2.0 2.0 0 1 0 -4 0zM271.25 207.11a2.0 2.0 0 1 0 4 0a2.0 2.0 0 1 0 -4 0zM274.69 193.8a2.0 2.0 0 1 0 4 0a2.0 2.0 0 1 0 -4 0zM278.14 188.26a2.0 2.0 0 1 0 4 0a2.0 2.0 0 1 0 -4 0zM281.58 186.04a2.0 2.0 0 1 0 4 0a2.0 2.0 0 1 0 -4 0zM285.02 181.6a2.0 2.0 0 1 0 4 0a2.0 2.0 0 1 0 -4 0zM288.47 193.8a2.0 2.0 0 1 0 4 0a2.0 2.0 0 1 0 -4 0zM291.91 188.26a2.0 2.0 0 1 0 4 0a2.0 2.0 0 1 0 -4 0zM295.35 171.62a2.0 2.0 0 1 0 4 0a2.0 2.0 0 1 0 -4 0zM298.8 164.96a2.0 2.0 0 1 0 4 0a2.0 2.0 0 1 0 -4 0zM302.24 160.53a2.0 2.0 0 1 0 4 0a2.0 2.0 0 1 0 -4 0zM305.68 162.75a2.0 2.0 0 1 0 4 0a2.0 2.0 0 1 0 -4 0zM309.13 164.96a2.0 2.0 0 1 0 4 0a2.0 2.0 0 1 0 -4 0zM312.57 168.55a2.0 2.0 0 1 0 4 0a2.0 2.0 0 1 0 -4 0zM316.02 162.49a2.0 2.0 0 1 0 4 0a2.0 2.0 0 1 0 -4 0zM319.46 162.94a2.0 2.0 0 1 0 4 0a2.0 2.0 0 1 0 -4 0zM322.9 170.79a2.0 2.0 0 1 0 4 0a2.0 2.0 0 1 0 -4 0zM326.35 164.06a2.0 2.0 0 1 0 4 0a2.0 2.0 0 1 0 -4 0zM329.79 153.97a2.0 2.0 0 1 0 4 0a2.0 2.0 0 1 0 -4 0zM333.23 162.94a2.0 2.0 0 1 0 4 0a2.0 2.0 0 1 0 -4 0zM336.68 165.18a2.0 2.0 0 1 0 4 0a2.0 2.0 0 1 0 -4 0zM340.12 178.64a2.0 2.0 0 1 0 4 0a2.0 2.0 0 1 0 -4 0zM343.56 182a2.0 2.0 0 1 0 4 0a2.0 2.0 0 1 0 -4 0zM347.01 179.76a2.0 2.0 0 1 0 4 0a2.0 2.0 0 1 0 -4 0zM350.45 186.49a2.0 2.0 0 1 0 4 0a2.0 2.0 0 1 0 -4 0zM353.89 189.85a2.0 2.0 0 1 0 4 0a2.0 2.0 0 1 0 -4 0zM357.34 193.22a2.0 2.0 0 1 0 4 0a2.0 2.0 0 1 0 -4 0zM360.78 196.58a2.0 2.0 0 1 0 4 0a2.0 2.0 0 1 0 -4 0zM364.22 212.28a2.0 2.0 0 1 0 4 0a2.0 2.0 0 1 0 -4 0zM367.67 223.49a2.0 2.0 0 1 0 4 0a2.0 2.0 0 1 0 -4 0zM371.11 212.28a2.0 2.0 0 1 0 4 0a2.0 2.0 0 1 0 -4 0zM374.55 214.52a2.0 2.0 0 1 0 4 0a2.0 2.0 0 1 0 -4 0zM378 216.76a2.0 2.0 0 1 0 4 0a2.0 2.0 0 1 0 -4 0zM381.44 213.4a2.0 2.0 0 1 0 4 0a2.0 2.0 0 1 0 -4 0zM384.88 217.89a2.0 2.0 0 1 0 4 0a2.0 2.0 0 1 0 -4 0zM388.33 222.37a2.0 2.0 0 1 0 4 0a2.0 2.0 0 1 0 -4 0zM391.77 224.61a2.0 2.0 0 1 0 4 0a2.0 2.0 0 1 0 -4 0zM395.21 227.98a2.0 2.0 0 1 0 4 0a2.0 2.0 0 1 0 -4 0zM398.66 229.1a2.0 2.0 0 1 0 4 0a2.0 2.0 0 1 0 -4 0z" stroke="#ff7480" stroke-width="0.65" fill="#fff"/>
</g>
<g clip-path="url(#ce)">
<path d="M36.44 379.91V387.91M35.14 379.91h2.6M35.14 387.91h2.6M39.88 373.7V389.7M38.58 373.7h2.6M38.58 389.7h2.6M43.32 378.8V386.8M42.02 378.8h2.6M42.02 386.8h2.6M46.77 384.24V390.24M45.47 384.24h2.6M45.47 390.24h2.6M50.21 364.82V388.82M48.91 364.82h2.6M48.91 388.82h2.6M53.65 378.8V386.8M52.35 378.8h2.6M52.35 386.8h2.6M57.09 382.69V388.69M55.79 382.69h2.6M55.79 388.69h2.6M60.53 384.91V390.91M59.23 384.91h2.6M59.23 390.91h2.6M63.97 384.91V390.91M62.67 384.91h2.6M62.67 390.91h2.6M67.42 377.8V387.8M66.12 377.8h2.6M66.12 387.8h2.6M70.86 366V376M69.56 366h2.6M69.56 376h2.6M74.3 374.3V382.3M73 374.3h2.6M73 382.3h2.6M77.74 372.1V388.1M76.44 372.1h2.6M76.44 388.1h2.6M81.18 371.04V379.04M79.88 371.04h2.6M79.88 379.04h2.6M84.62 377.7V385.7M83.32 377.7h2.6M83.32 385.7h2.6M88.06 371.04V379.04M86.76 371.04h2.6M86.76 379.04h2.6M91.51 370.04V380.04M90.21 370.04h2.6M90.21 380.04h2.6M94.95 370.04V380.04M93.65 370.04h2.6M93.65 380.04h2.6M98.39 362.38V382.38M97.09 362.38h2.6M97.09 382.38h2.6M101.83 363.39V373.39M100.53 363.39h2.6M100.53 373.39h2.6M105.27 361.83V375.83M103.97 361.83h2.6M103.97 375.83h2.6M108.71 362.5V376.5M107.41 362.5h2.6M107.41 376.5h2.6M112.15 361.5V377.5M110.85 361.5h2.6M110.85 377.5h2.6M115.6 350.84V374.84M114.3 350.84h2.6M114.3 374.84h2.6M119.04 338.86V366.86M117.74 338.86h2.6M117.74 366.86h2.6M122.48 354.84V370.84M121.18 354.84h2.6M121.18 370.84h2.6M125.92 366.6V374.6M124.62 366.6h2.6M124.62 374.6h2.6M129.36 371.04V379.04M128.06 371.04h2.6M128.06 379.04h2.6M132.8 359.17V373.17M131.5 359.17h2.6M131.5 373.17h2.6M136.25 356.84V368.84M134.95 356.84h2.6M134.95 368.84h2.6M139.69 355.6V385.6M138.39 355.6h2.6M138.39 385.6h2.6M143.13 370.26V384.26M141.83 370.26h2.6M141.83 384.26h2.6M146.57 360.5V378.5M145.27 360.5h2.6M145.27 378.5h2.6M150.01 371.37V385.37M148.71 371.37h2.6M148.71 385.37h2.6M153.45 370.26V384.26M152.15 370.26h2.6M152.15 384.26h2.6M156.89 357.94V377.94M155.59 357.94h2.6M155.59 377.94h2.6M160.34 365.71V377.71M159.04 365.71h2.6M159.04 377.71h2.6M163.78 375.7V387.7M162.48 375.7h2.6M162.48 387.7h2.6M167.22 378.8V386.8M165.92 378.8h2.6M165.92 386.8h2.6M170.66 373.37V383.37M169.36 373.37h2.6M169.36 383.37h2.6M174.1 372.48V386.48M172.8 372.48h2.6M172.8 386.48h2.6M177.54 366.15V386.15M176.24 366.15h2.6M176.24 386.15h2.6M180.98 363.71V379.71M179.68 363.71h2.6M179.68 379.71h2.6M184.43 363.6V377.6M183.13 363.6h2.6M183.13 377.6h2.6M187.87 378.02V392.02M186.57 378.02h2.6M186.57 392.02h2.6M191.31 377.8V387.8M190.01 377.8h2.6M190.01 387.8h2.6M194.75 383.35V393.35M193.45 383.35h2.6M193.45 393.35h2.6M198.19 380.24V394.24M196.89 380.24h2.6M196.89 394.24h2.6M201.63 379.02V391.02M200.33 379.02h2.6M200.33 391.02h2.6M205.08 384.46V394.46M203.78 384.46h2.6M203.78 394.46h2.6M208.52 384.46V394.46M207.22 384.46h2.6M207.22 394.46h2.6M211.96 384.46V394.46M210.66 384.46h2.6M210.66 394.46h2.6" stroke="#8a8aff" stroke-width="0.6" fill="none"/>
<polyline points="36.44,383.91 39.88,381.7 43.32,382.8 46.77,387.24 50.21,376.82 53.65,382.8 57.09,385.69 60.53,387.91 63.97,387.91 67.42,382.8 70.86,371 74.3,378.3 77.74,380.1 81.18,375.04 84.62,381.7 88.06,375.04 91.51,375.04 94.95,375.04 98.39,372.38 101.83,368.39 105.27,368.83 108.71,369.5 112.15,369.5 115.6,362.84 119.04,352.86 122.48,362.84 125.92,370.6 129.36,375.04 132.8,366.17 136.25,362.84 139.69,370.6 143.13,377.26 146.57,369.5 150.01,378.37 153.45,377.26 156.89,367.94 160.34,371.71 163.78,381.7 167.22,382.8 170.66,378.37 174.1,379.48 177.54,376.15 180.98,371.71 184.43,370.6 187.87,385.02 191.31,382.8 194.75,388.35 198.19,387.24 201.63,385.02 205.08,389.46 208.52,389.46 211.96,389.46" stroke="#8a8aff" stroke-width="0.6" fill="none"/>
<polyline points="36.44,387.24 39.88,387.91 43.32,379.92 46.77,390.5 50.21,389.46 53.65,388.35 57.09,386.13 60.53,372.82 63.97,376.15 67.42,370.6 70.86,378.9 74.3,370.16 77.74,372.8 81.18,387.24 84.62,375.48 88.06,373.27 91.51,367.94 94.95,353.3 98.39,370.6 101.83,372.82 105.27,371.71 108.71,363.95 112.15,358.4 115.6,349.53 119.04,348.42 122.48,352.86 125.92,363.95 129.36,346.2 132.8,353.97 136.25,368.39 139.69,355.08 143.13,372.82 146.57,350.64 150.01,358.4 153.45,375.04 156.89,371.71 160.34,375.48 163.78,349.53 167.22,375.04 170.66,382.8 174.1,379.03 177.54,371.71 180.98,387.24 184.43,381.7 187.87,368.39 191.31,382.8 194.75,370.6 198.19,382.8 201.63,375.04 205.08,381.7 208.52,389.46 211.96,382.8" stroke="#ff8c8c" stroke-width="0.6" fill="none"/>
<path d="M34.59 382.06h3.7v3.7h-3.7zM38.03 379.85h3.7v3.7h-3.7zM41.47 380.95h3.7v3.7h-3.7zM44.92 385.39h3.7v3.7h-3.7zM48.36 374.97h3.7v3.7h-3.7zM51.8 380.95h3.7v3.7h-3.7zM55.24 383.84h3.7v3.7h-3.7zM58.68 386.06h3.7v3.7h-3.7zM62.12 386.06h3.7v3.7h-3.7zM65.57 380.95h3.7v3.7h-3.7zM69.01 369.15h3.7v3.7h-3.7zM72.45 376.45h3.7v3.7h-3.7zM75.89 378.25h3.7v3.7h-3.7zM79.33 373.19h3.7v3.7h-3.7zM82.77 379.85h3.7v3.7h-3.7zM86.21 373.19h3.7v3.7h-3.7zM89.66 373.19h3.7v3.7h-3.7zM93.1 373.19h3.7v3.7h-3.7zM96.54 370.53h3.7v3.7h-3.7zM99.98 366.54h3.7v3.7h-3.7zM103.42 366.98h3.7v3.7h-3.7zM106.86 367.65h3.7v3.7h-3.7zM110.3 367.65h3.7v3.7h-3.7zM113.75 360.99h3.7v3.7h-3.7zM117.19 351.01h3.7v3.7h-3.7zM120.63 360.99h3.7v3.7h-3.7zM124.07 368.75h3.7v3.7h-3.7zM127.51 373.19h3.7v3.7h-3.7zM130.95 364.32h3.7v3.7h-3.7zM134.4 360.99h3.7v3.7h-3.7zM137.84 368.75h3.7v3.7h-3.7zM141.28 375.41h3.7v3.7h-3.7zM144.72 367.65h3.7v3.7h-3.7zM148.16 376.52h3.7v3.7h-3.7zM151.6 375.41h3.7v3.7h-3.7zM155.04 366.09h3.7v3.7h-3.7zM158.49 369.86h3.7v3.7h-3.7zM161.93 379.85h3.7v3.7h-3.7zM165.37 380.95h3.7v3.7h-3.7zM168.81 376.52h3.7v3.7h-3.7zM172.25 377.63h3.7v3.7h-3.7zM175.69 374.3h3.7v3.7h-3.7zM179.13 369.86h3.7v3.7h-3.7zM182.58 368.75h3.7v3.7h-3.7zM186.02 383.17h3.7v3.7h-3.7zM189.46 380.95h3.7v3.7h-3.7zM192.9 386.5h3.7v3.7h-3.7zM196.34 385.39h3.7v3.7h-3.7zM199.78 383.17h3.7v3.7h-3.7zM203.23 387.61h3.7v3.7h-3.7zM206.67 387.61h3.7v3.7h-3.7zM210.11 387.61h3.7v3.7h-3.7z" stroke="#6a6aff" stroke-width="0.65" fill="#fff"/>
<path d="M34.44 387.24a2.0 2.0 0 1 0 4 0a2.0 2.0 0 1 0 -4 0zM37.88 387.91a2.0 2.0 0 1 0 4 0a2.0 2.0 0 1 0 -4 0zM41.32 379.92a2.0 2.0 0 1 0 4 0a2.0 2.0 0 1 0 -4 0zM44.77 390.5a2.0 2.0 0 1 0 4 0a2.0 2.0 0 1 0 -4 0zM48.21 389.46a2.0 2.0 0 1 0 4 0a2.0 2.0 0 1 0 -4 0zM51.65 388.35a2.0 2.0 0 1 0 4 0a2.0 2.0 0 1 0 -4 0zM55.09 386.13a2.0 2.0 0 1 0 4 0a2.0 2.0 0 1 0 -4 0zM58.53 372.82a2.0 2.0 0 1 0 4 0a2.0 2.0 0 1 0 -4 0zM61.97 376.15a2.0 2.0 0 1 0 4 0a2.0 2.0 0 1 0 -4 0zM65.42 370.6a2.0 2.0 0 1 0 4 0a2.0 2.0 0 1 0 -4 0zM68.86 378.9a2.0 2.0 0 1 0 4 0a2.0 2.0 0 1 0 -4 0zM72.3 370.16a2.0 2.0 0 1 0 4 0a2.0 2.0 0 1 0 -4 0zM75.74 372.8a2.0 2.0 0 1 0 4 0a2.0 2.0 0 1 0 -4 0zM79.18 387.24a2.0 2.0 0 1 0 4 0a2.0 2.0 0 1 0 -4 0zM82.62 375.48a2.0 2.0 0 1 0 4 0a2.0 2.0 0 1 0 -4 0zM86.06 373.27a2.0 2.0 0 1 0 4 0a2.0 2.0 0 1 0 -4 0zM89.51 367.94a2.0 2.0 0 1 0 4 0a2.0 2.0 0 1 0 -4 0zM92.95 353.3a2.0 2.0 0 1 0 4 0a2.0 2.0 0 1 0 -4 0zM96.39 370.6a2.0 2.0 0 1 0 4 0a2.0 2.0 0 1 0 -4 0zM99.83 372.82a2.0 2.0 0 1 0 4 0a2.0 2.0 0 1 0 -4 0zM103.27 371.71a2.0 2.0 0 1 0 4 0a2.0 2.0 0 1 0 -4 0zM106.71 363.95a2.0 2.0 0 1 0 4 0a2.0 2.0 0 1 0 -4 0zM110.15 358.4a2.0 2.0 0 1 0 4 0a2.0 2.0 0 1 0 -4 0zM113.6 349.53a2.0 2.0 0 1 0 4 0a2.0 2.0 0 1 0 -4 0zM117.04 348.42a2.0 2.0 0 1 0 4 0a2.0 2.0 0 1 0 -4 0zM120.48 352.86a2.0 2.0 0 1 0 4 0a2.0 2.0 0 1 0 -4 0zM123.92 363.95a2.0 2.0 0 1 0 4 0a2.0 2.0 0 1 0 -4 0zM127.36 346.2a2.0 2.0 0 1 0 4 0a2.0 2.0 0 1 0 -4 0zM130.8 353.97a2.0 2.0 0 1 0 4 0a2.0 2.0 0 1 0 -4 0zM134.25 368.39a2.0 2.0 0 1 0 4 0a2.0 2.0 0 1 0 -4 0zM137.69 355.08a2.0 2.0 0 1 0 4 0a2.0 2.0 0 1 0 -4 0zM141.13 372.82a2.0 2.0 0 1 0 4 0a2.0 2.0 0 1 0 -4 0zM144.57 350.64a2.0 2.0 0 1 0 4 0a2.0 2.0 0 1 0 -4 0zM148.01 358.4a2.0 2.0 0 1 0 4 0a2.0 2.0 0 1 0 -4 0zM151.45 375.04a2.0 2.0 0 1 0 4 0a2.0 2.0 0 1 0 -4 0zM154.89 371.71a2.0 2.0 0 1 0 4 0a2.0 2.0 0 1 0 -4 0zM158.34 375.48a2.0 2.0 0 1 0 4 0a2.0 2.0 0 1 0 -4 0zM161.78 349.53a2.0 2.0 0 1 0 4 0a2.0 2.0 0 1 0 -4 0zM165.22 375.04a2.0 2.0 0 1 0 4 0a2.0 2.0 0 1 0 -4 0zM168.66 382.8a2.0 2.0 0 1 0 4 0a2.0 2.0 0 1 0 -4 0zM172.1 379.03a2.0 2.0 0 1 0 4 0a2.0 2.0 0 1 0 -4 0zM175.54 371.71a2.0 2.0 0 1 0 4 0a2.0 2.0 0 1 0 -4 0zM178.98 387.24a2.0 2.0 0 1 0 4 0a2.0 2.0 0 1 0 -4 0zM182.43 381.7a2.0 2.0 0 1 0 4 0a2.0 2.0 0 1 0 -4 0zM185.87 368.39a2.0 2.0 0 1 0 4 0a2.0 2.0 0 1 0 -4 0zM189.31 382.8a2.0 2.0 0 1 0 4 0a2.0 2.0 0 1 0 -4 0zM192.75 370.6a2.0 2.0 0 1 0 4 0a2.0 2.0 0 1 0 -4 0zM196.19 382.8a2.0 2.0 0 1 0 4 0a2.0 2.0 0 1 0 -4 0zM199.63 375.04a2.0 2.0 0 1 0 4 0a2.0 2.0 0 1 0 -4 0zM203.08 381.7a2.0 2.0 0 1 0 4 0a2.0 2.0 0 1 0 -4 0zM206.52 389.46a2.0 2.0 0 1 0 4 0a2.0 2.0 0 1 0 -4 0zM209.96 382.8a2.0 2.0 0 1 0 4 0a2.0 2.0 0 1 0 -4 0z" stroke="#ff7480" stroke-width="0.65" fill="#fff"/>
</g>
<g clip-path="url(#cf)">
<path d="M225.04 388.68V394.68M223.74 388.68h2.6M223.74 394.68h2.6M228.49 388.68V394.68M227.19 388.68h2.6M227.19 394.68h2.6M231.93 390.34V394.34M230.63 390.34h2.6M230.63 394.34h2.6M235.37 386.46V392.46M234.07 386.46h2.6M234.07 392.46h2.6M238.82 384.41V391.41M237.52 384.41h2.6M237.52 391.41h2.6M242.26 384.91V390.91M240.96 384.91h2.6M240.96 390.91h2.6M245.7 384.46V394.46M244.4 384.46h2.6M244.4 394.46h2.6M249.15 387.57V393.57M247.85 387.57h2.6M247.85 393.57h2.6M252.59 383.91V391.91M251.29 383.91h2.6M251.29 391.91h2.6M256.03 381.52V388.52M254.73 381.52h2.6M254.73 388.52h2.6M259.48 374.98V383.98M258.18 374.98h2.6M258.18 383.98h2.6M262.92 377.2V386.2M261.62 377.2h2.6M261.62 386.2h2.6M266.36 370.76V383.76M265.06 370.76h2.6M265.06 383.76h2.6M269.81 364.1V377.1M268.51 364.1h2.6M268.51 377.1h2.6M273.25 374.48V384.48M271.95 374.48h2.6M271.95 384.48h2.6M276.69 375.09V386.09M275.39 375.09h2.6M275.39 386.09h2.6M280.14 368.82V376.82M278.84 368.82h2.6M278.84 376.82h2.6M283.58 368.43V379.43M282.28 368.43h2.6M282.28 379.43h2.6M287.02 350.39V386.39M285.72 350.39h2.6M285.72 386.39h2.6M290.47 347.72V383.72M289.17 347.72h2.6M289.17 383.72h2.6M293.91 361.89V374.89M292.61 361.89h2.6M292.61 374.89h2.6M297.35 357.5V381.5M296.05 357.5h2.6M296.05 381.5h2.6M300.8 362.5V376.5M299.5 362.5h2.6M299.5 376.5h2.6M304.24 343.4V373.4M302.94 343.4h2.6M302.94 373.4h2.6M307.68 326.53V372.53M306.38 326.53h2.6M306.38 372.53h2.6M311.13 335.09V355.09M309.83 335.09h2.6M309.83 355.09h2.6M314.57 358.19V376.19M313.27 358.19h2.6M313.27 376.19h2.6M318.02 351.95V377.95M316.72 351.95h2.6M316.72 377.95h2.6M321.46 350.22V366.22M320.16 350.22h2.6M320.16 366.22h2.6M324.9 346.43V366.43M323.6 346.43h2.6M323.6 366.43h2.6M328.35 337.22V379.22M327.05 337.22h2.6M327.05 379.22h2.6M331.79 355.31V381.31M330.49 355.31h2.6M330.49 381.31h2.6M335.23 357.31V379.31M333.93 357.31h2.6M333.93 379.31h2.6M338.68 364.68V378.68M337.38 364.68h2.6M337.38 378.68h2.6M342.12 362.43V376.43M340.82 362.43h2.6M340.82 376.43h2.6M345.56 352.95V376.95M344.26 352.95h2.6M344.26 376.95h2.6M349.01 369.42V378.42M347.71 369.42h2.6M347.71 378.42h2.6M352.45 375.4V381.4M351.15 375.4h2.6M351.15 381.4h2.6M355.89 380.51V387.51M354.59 380.51h2.6M354.59 387.51h2.6M359.34 383.38V391.38M358.04 383.38h2.6M358.04 391.38h2.6M362.78 386.62V392.62M361.48 386.62h2.6M361.48 392.62h2.6M366.22 384V393M364.92 384h2.6M364.92 393h2.6M369.67 379.13V391.13M368.37 379.13h2.6M368.37 391.13h2.6M373.11 387.74V393.74M371.81 387.74h2.6M371.81 393.74h2.6M376.55 388.86V394.86M375.25 388.86h2.6M375.25 394.86h2.6M380 389.86V393.86M378.7 389.86h2.6M378.7 393.86h2.6M383.44 388.74V392.74M382.14 388.74h2.6M382.14 392.74h2.6M386.88 390.98V394.98M385.58 390.98h2.6M385.58 394.98h2.6M390.33 391.65V395.65M389.03 391.65h2.6M389.03 395.65h2.6M393.77 391.65V395.65M392.47 391.65h2.6M392.47 395.65h2.6M397.21 390.98V394.98M395.91 390.98h2.6M395.91 394.98h2.6M400.66 390.31V394.31M399.36 390.31h2.6M399.36 394.31h2.6" stroke="#8a8aff" stroke-width="0.6" fill="none"/>
<polyline points="225.04,391.68 228.49,391.68 231.93,392.34 235.37,389.46 238.82,387.91 242.26,387.91 245.7,389.46 249.15,390.57 252.59,387.91 256.03,385.02 259.48,379.48 262.92,381.7 266.36,377.26 269.81,370.6 273.25,379.48 276.69,380.59 280.14,372.82 283.58,373.93 287.02,368.39 290.47,365.72 293.91,368.39 297.35,369.5 300.8,369.5 304.24,358.4 307.68,349.53 311.13,345.09 314.57,367.19 318.02,364.95 321.46,358.22 324.9,356.43 328.35,358.22 331.79,368.31 335.23,368.31 338.68,371.68 342.12,369.43 345.56,364.95 349.01,373.92 352.45,378.4 355.89,384.01 359.34,387.38 362.78,389.62 366.22,388.5 369.67,385.13 373.11,390.74 376.55,391.86 380,391.86 383.44,390.74 386.88,392.98 390.33,393.65 393.77,393.65 397.21,392.98 400.66,392.31" stroke="#8a8aff" stroke-width="0.6" fill="none"/>
<polyline points="225.04,386.58 228.49,390.57 231.93,392.34 235.37,390.57 238.82,390.13 242.26,390.13 245.7,388.35 249.15,389.46 252.59,385.02 256.03,376.15 259.48,372.82 262.92,366.17 266.36,367.28 269.81,371.71 273.25,374.6 276.69,359.96 280.14,362.84 283.58,365.06 287.02,369.5 290.47,372.82 293.91,378.37 297.35,356.19 300.8,343.98 304.24,332.45 307.68,310.71 311.13,327.35 314.57,350.37 318.02,308.43 321.46,326.82 324.9,354.86 328.35,330.19 331.79,283.09 335.23,335.35 338.68,325.7 342.12,358.67 345.56,367.19 349.01,367.19 352.45,357.55 355.89,376.83 359.34,381.77 362.78,384.01 366.22,386.25 369.67,390.74 373.11,390.74 376.55,391.86 380,392.31 383.44,392.98 386.88,392.98 390.33,392.98 393.77,392.98 397.21,392.31 400.66,391.86" stroke="#ff8c8c" stroke-width="0.6" fill="none"/>
<path d="M223.19 389.83h3.7v3.7h-3.7zM226.64 389.83h3.7v3.7h-3.7zM230.08 390.49h3.7v3.7h-3.7zM233.52 387.61h3.7v3.7h-3.7zM236.97 386.06h3.7v3.7h-3.7zM240.41 386.06h3.7v3.7h-3.7zM243.85 387.61h3.7v3.7h-3.7zM247.3 388.72h3.7v3.7h-3.7zM250.74 386.06h3.7v3.7h-3.7zM254.18 383.17h3.7v3.7h-3.7zM257.63 377.63h3.7v3.7h-3.7zM261.07 379.85h3.7v3.7h-3.7zM264.51 375.41h3.7v3.7h-3.7zM267.96 368.75h3.7v3.7h-3.7zM271.4 377.63h3.7v3.7h-3.7zM274.84 378.74h3.7v3.7h-3.7zM278.29 370.97h3.7v3.7h-3.7zM281.73 372.08h3.7v3.7h-3.7zM285.17 366.54h3.7v3.7h-3.7zM288.62 363.87h3.7v3.7h-3.7zM292.06 366.54h3.7v3.7h-3.7zM295.5 367.65h3.7v3.7h-3.7zM298.95 367.65h3.7v3.7h-3.7zM302.39 356.55h3.7v3.7h-3.7zM305.83 347.68h3.7v3.7h-3.7zM309.28 343.24h3.7v3.7h-3.7zM312.72 365.34h3.7v3.7h-3.7zM316.17 363.1h3.7v3.7h-3.7zM319.61 356.37h3.7v3.7h-3.7zM323.05 354.58h3.7v3.7h-3.7zM326.5 356.37h3.7v3.7h-3.7zM329.94 366.46h3.7v3.7h-3.7zM333.38 366.46h3.7v3.7h-3.7zM336.83 369.83h3.7v3.7h-3.7zM340.27 367.58h3.7v3.7h-3.7zM343.71 363.1h3.7v3.7h-3.7zM347.16 372.07h3.7v3.7h-3.7zM350.6 376.55h3.7v3.7h-3.7zM354.04 382.16h3.7v3.7h-3.7zM357.49 385.53h3.7v3.7h-3.7zM360.93 387.77h3.7v3.7h-3.7zM364.37 386.65h3.7v3.7h-3.7zM367.82 383.28h3.7v3.7h-3.7zM371.26 388.89h3.7v3.7h-3.7zM374.7 390.01h3.7v3.7h-3.7zM378.15 390.01h3.7v3.7h-3.7zM381.59 388.89h3.7v3.7h-3.7zM385.03 391.13h3.7v3.7h-3.7zM388.48 391.8h3.7v3.7h-3.7zM391.92 391.8h3.7v3.7h-3.7zM395.36 391.13h3.7v3.7h-3.7zM398.81 390.46h3.7v3.7h-3.7z" stroke="#6a6aff" stroke-width="0.65" fill="#fff"/>
<path d="M223.04 386.58a2.0 2.0 0 1 0 4 0a2.0 2.0 0 1 0 -4 0zM226.49 390.57a2.0 2.0 0 1 0 4 0a2.0 2.0 0 1 0 -4 0zM229.93 392.34a2.0 2.0 0 1 0 4 0a2.0 2.0 0 1 0 -4 0zM233.37 390.57a2.0 2.0 0 1 0 4 0a2.0 2.0 0 1 0 -4 0zM236.82 390.13a2.0 2.0 0 1 0 4 0a2.0 2.0 0 1 0 -4 0zM240.26 390.13a2.0 2.0 0 1 0 4 0a2.0 2.0 0 1 0 -4 0zM243.7 388.35a2.0 2.0 0 1 0 4 0a2.0 2.0 0 1 0 -4 0zM247.15 389.46a2.0 2.0 0 1 0 4 0a2.0 2.0 0 1 0 -4 0zM250.59 385.02a2.0 2.0 0 1 0 4 0a2.0 2.0 0 1 0 -4 0zM254.03 376.15a2.0 2.0 0 1 0 4 0a2.0 2.0 0 1 0 -4 0zM257.48 372.82a2.0 2.0 0 1 0 4 0a2.0 2.0 0 1 0 -4 0zM260.92 366.17a2.0 2.0 0 1 0 4 0a2.0 2.0 0 1 0 -4 0zM264.36 367.28a2.0 2.0 0 1 0 4 0a2.0 2.0 0 1 0 -4 0zM267.81 371.71a2.0 2.0 0 1 0 4 0a2.0 2.0 0 1 0 -4 0zM271.25 374.6a2.0 2.0 0 1 0 4 0a2.0 2.0 0 1 0 -4 0zM274.69 359.96a2.0 2.0 0 1 0 4 0a2.0 2.0 0 1 0 -4 0zM278.14 362.84a2.0 2.0 0 1 0 4 0a2.0 2.0 0 1 0 -4 0zM281.58 365.06a2.0 2.0 0 1 0 4 0a2.0 2.0 0 1 0 -4 0zM285.02 369.5a2.0 2.0 0 1 0 4 0a2.0 2.0 0 1 0 -4 0zM288.47 372.82a2.0 2.0 0 1 0 4 0a2.0 2.0 0 1 0 -4 0zM291.91 378.37a2.0 2.0 0 1 0 4 0a2.0 2.0 0 1 0 -4 0zM295.35 356.19a2.0 2.0 0 1 0 4 0a2.0 2.0 0 1 0 -4 0zM298.8 343.98a2.0 2.0 0 1 0 4 0a2.0 2.0 0 1 0 -4 0zM302.24 332.45a2.0 2.0 0 1 0 4 0a2.0 2.0 0 1 0 -4 0zM305.68 310.71a2.0 2.0 0 1 0 4 0a2.0 2.0 0 1 0 -4 0zM309.13 327.35a2.0 2.0 0 1 0 4 0a2.0 2.0 0 1 0 -4 0zM312.57 350.37a2.0 2.0 0 1 0 4 0a2.0 2.0 0 1 0 -4 0zM316.02 308.43a2.0 2.0 0 1 0 4 0a2.0 2.0 0 1 0 -4 0zM319.46 326.82a2.0 2.0 0 1 0 4 0a2.0 2.0 0 1 0 -4 0zM322.9 354.86a2.0 2.0 0 1 0 4 0a2.0 2.0 0 1 0 -4 0zM326.35 330.19a2.0 2.0 0 1 0 4 0a2.0 2.0 0 1 0 -4 0zM329.79 283.09a2.0 2.0 0 1 0 4 0a2.0 2.0 0 1 0 -4 0zM333.23 335.35a2.0 2.0 0 1 0 4 0a2.0 2.0 0 1 0 -4 0zM336.68 325.7a2.0 2.0 0 1 0 4 0a2.0 2.0 0 1 0 -4 0zM340.12 358.67a2.0 2.0 0 1 0 4 0a2.0 2.0 0 1 0 -4 0zM343.56 367.19a2.0 2.0 0 1 0 4 0a2.0 2.0 0 1 0 -4 0zM347.01 367.19a2.0 2.0 0 1 0 4 0a2.0 2.0 0 1 0 -4 0zM350.45 357.55a2.0 2.0 0 1 0 4 0a2.0 2.0 0 1 0 -4 0zM353.89 376.83a2.0 2.0 0 1 0 4 0a2.0 2.0 0 1 0 -4 0zM357.34 381.77a2.0 2.0 0 1 0 4 0a2.0 2.0 0 1 0 -4 0zM360.78 384.01a2.0 2.0 0 1 0 4 0a2.0 2.0 0 1 0 -4 0zM364.22 386.25a2.0 2.0 0 1 0 4 0a2.0 2.0 0 1 0 -4 0zM367.67 390.74a2.0 2.0 0 1 0 4 0a2.0 2.0 0 1 0 -4 0zM371.11 390.74a2.0 2.0 0 1 0 4 0a2.0 2.0 0 1 0 -4 0zM374.55 391.86a2.0 2.0 0 1 0 4 0a2.0 2.0 0 1 0 -4 0zM378 392.31a2.0 2.0 0 1 0 4 0a2.0 2.0 0 1 0 -4 0zM381.44 392.98a2.0 2.0 0 1 0 4 0a2.0 2.0 0 1 0 -4 0zM384.88 392.98a2.0 2.0 0 1 0 4 0a2.0 2.0 0 1 0 -4 0zM388.33 392.98a2.0 2.0 0 1 0 4 0a2.0 2.0 0 1 0 -4 0zM391.77 392.98a2.0 2.0 0 1 0 4 0a2.0 2.0 0 1 0 -4 0zM395.21 392.31a2.0 2.0 0 1 0 4 0a2.0 2.0 0 1 0 -4 0zM398.66 391.86a2.0 2.0 0 1 0 4 0a2.0 2.0 0 1 0 -4 0z" stroke="#ff7480" stroke-width="0.65" fill="#fff"/>
</g>
<g clip-path="url(#cg)">
<g fill="#d2d2fb" stroke="#6a6aff" stroke-width="0.65"><rect x="35.41" y="515.24" width="2.06" height="8.36"/><rect x="38.85" y="499.27" width="2.06" height="24.33"/><rect x="42.29" y="483.52" width="2.06" height="40.08"/><rect x="45.73" y="513.02" width="2.06" height="10.58"/><rect x="49.18" y="515.24" width="2.06" height="8.36"/><rect x="52.62" y="500.38" width="2.06" height="23.22"/><rect x="56.06" y="512.36" width="2.06" height="11.24"/><rect x="59.5" y="514.58" width="2.06" height="9.02"/><rect x="62.94" y="512.36" width="2.06" height="11.24"/><rect x="73.27" y="474.2" width="2.06" height="49.4"/><rect x="76.71" y="517.46" width="2.06" height="6.14"/><rect x="80.15" y="512.36" width="2.06" height="11.24"/><rect x="83.59" y="514.58" width="2.06" height="9.02"/><rect x="87.03" y="511.91" width="2.06" height="11.69"/><rect x="90.47" y="507.92" width="2.06" height="15.68"/><rect x="93.91" y="467.99" width="2.06" height="55.61"/><rect x="97.36" y="515.24" width="2.06" height="8.36"/><rect x="100.8" y="496.83" width="2.06" height="26.77"/><rect x="104.24" y="476.87" width="2.06" height="46.73"/><rect x="107.68" y="476.87" width="2.06" height="46.73"/><rect x="111.12" y="472.43" width="2.06" height="51.17"/><rect x="114.56" y="507.48" width="2.06" height="16.12"/><rect x="118.01" y="491.51" width="2.06" height="32.09"/><rect x="121.45" y="478.2" width="2.06" height="45.4"/><rect x="124.89" y="483.08" width="2.06" height="40.52"/><rect x="128.33" y="471.54" width="2.06" height="52.06"/><rect x="131.77" y="487.51" width="2.06" height="36.09"/><rect x="135.21" y="502.6" width="2.06" height="21"/><rect x="138.65" y="477.53" width="2.06" height="46.07"/><rect x="142.1" y="434.72" width="2.06" height="88.88"/><rect x="145.54" y="500.82" width="2.06" height="22.78"/><rect x="148.98" y="409.43" width="2.06" height="114.17"/><rect x="152.42" y="490.17" width="2.06" height="33.43"/><rect x="155.86" y="512.36" width="2.06" height="11.24"/><rect x="159.3" y="487.07" width="2.06" height="36.53"/><rect x="162.74" y="506.37" width="2.06" height="17.23"/><rect x="166.19" y="485.74" width="2.06" height="37.86"/><rect x="169.63" y="488.62" width="2.06" height="34.98"/><rect x="173.07" y="515.91" width="2.06" height="7.69"/><rect x="176.51" y="489.29" width="2.06" height="34.31"/><rect x="179.95" y="505.26" width="2.06" height="18.34"/><rect x="183.39" y="488.84" width="2.06" height="34.76"/><rect x="186.84" y="509.7" width="2.06" height="13.9"/><rect x="190.28" y="474.65" width="2.06" height="48.95"/><rect x="193.72" y="501.27" width="2.06" height="22.33"/><rect x="197.16" y="510.8" width="2.06" height="12.8"/><rect x="200.6" y="513.02" width="2.06" height="10.58"/><rect x="204.04" y="514.58" width="2.06" height="9.02"/><rect x="207.48" y="504.15" width="2.06" height="19.45"/><rect x="210.93" y="500.38" width="2.06" height="23.22"/></g>
<path d="M34.74 513.02a1.7 1.7 0 1 0 3.4 0a1.7 1.7 0 1 0 -3.4 0zM38.18 514.13a1.7 1.7 0 1 0 3.4 0a1.7 1.7 0 1 0 -3.4 0zM41.62 520.12a1.7 1.7 0 1 0 3.4 0a1.7 1.7 0 1 0 -3.4 0zM45.07 498.6a1.7 1.7 0 1 0 3.4 0a1.7 1.7 0 1 0 -3.4 0zM48.51 507.92a1.7 1.7 0 1 0 3.4 0a1.7 1.7 0 1 0 -3.4 0zM51.95 515.91a1.7 1.7 0 1 0 3.4 0a1.7 1.7 0 1 0 -3.4 0zM55.39 521.9a1.7 1.7 0 1 0 3.4 0a1.7 1.7 0 1 0 -3.4 0zM58.83 521.9a1.7 1.7 0 1 0 3.4 0a1.7 1.7 0 1 0 -3.4 0zM62.27 517.9a1.7 1.7 0 1 0 3.4 0a1.7 1.7 0 1 0 -3.4 0zM65.72 521.9a1.7 1.7 0 1 0 3.4 0a1.7 1.7 0 1 0 -3.4 0zM69.16 521.9a1.7 1.7 0 1 0 3.4 0a1.7 1.7 0 1 0 -3.4 0zM72.6 521.9a1.7 1.7 0 1 0 3.4 0a1.7 1.7 0 1 0 -3.4 0zM76.04 521.9a1.7 1.7 0 1 0 3.4 0a1.7 1.7 0 1 0 -3.4 0zM79.48 507.92a1.7 1.7 0 1 0 3.4 0a1.7 1.7 0 1 0 -3.4 0zM82.92 521.9a1.7 1.7 0 1 0 3.4 0a1.7 1.7 0 1 0 -3.4 0zM86.36 520.34a1.7 1.7 0 1 0 3.4 0a1.7 1.7 0 1 0 -3.4 0zM89.81 517.9a1.7 1.7 0 1 0 3.4 0a1.7 1.7 0 1 0 -3.4 0zM93.25 478.2a1.7 1.7 0 1 0 3.4 0a1.7 1.7 0 1 0 -3.4 0zM96.69 484.19a1.7 1.7 0 1 0 3.4 0a1.7 1.7 0 1 0 -3.4 0zM100.13 510.14a1.7 1.7 0 1 0 3.4 0a1.7 1.7 0 1 0 -3.4 0zM103.57 475.31a1.7 1.7 0 1 0 3.4 0a1.7 1.7 0 1 0 -3.4 0zM107.01 494.61a1.7 1.7 0 1 0 3.4 0a1.7 1.7 0 1 0 -3.4 0zM110.45 481.97a1.7 1.7 0 1 0 3.4 0a1.7 1.7 0 1 0 -3.4 0zM113.9 486.4a1.7 1.7 0 1 0 3.4 0a1.7 1.7 0 1 0 -3.4 0zM117.34 510.14a1.7 1.7 0 1 0 3.4 0a1.7 1.7 0 1 0 -3.4 0zM120.78 425.84a1.7 1.7 0 1 0 3.4 0a1.7 1.7 0 1 0 -3.4 0zM124.22 502.6a1.7 1.7 0 1 0 3.4 0a1.7 1.7 0 1 0 -3.4 0zM127.66 519.23a1.7 1.7 0 1 0 3.4 0a1.7 1.7 0 1 0 -3.4 0zM131.1 469.32a1.7 1.7 0 1 0 3.4 0a1.7 1.7 0 1 0 -3.4 0zM134.55 458.01a1.7 1.7 0 1 0 3.4 0a1.7 1.7 0 1 0 -3.4 0zM137.99 521.9a1.7 1.7 0 1 0 3.4 0a1.7 1.7 0 1 0 -3.4 0zM141.43 521.9a1.7 1.7 0 1 0 3.4 0a1.7 1.7 0 1 0 -3.4 0zM144.87 496.83a1.7 1.7 0 1 0 3.4 0a1.7 1.7 0 1 0 -3.4 0zM148.31 511.25a1.7 1.7 0 1 0 3.4 0a1.7 1.7 0 1 0 -3.4 0zM151.75 423.85a1.7 1.7 0 1 0 3.4 0a1.7 1.7 0 1 0 -3.4 0zM155.19 509.7a1.7 1.7 0 1 0 3.4 0a1.7 1.7 0 1 0 -3.4 0zM158.64 498.6a1.7 1.7 0 1 0 3.4 0a1.7 1.7 0 1 0 -3.4 0zM162.08 510.8a1.7 1.7 0 1 0 3.4 0a1.7 1.7 0 1 0 -3.4 0zM165.52 521.9a1.7 1.7 0 1 0 3.4 0a1.7 1.7 0 1 0 -3.4 0zM168.96 440.93a1.7 1.7 0 1 0 3.4 0a1.7 1.7 0 1 0 -3.4 0zM172.4 407.21a1.7 1.7 0 1 0 3.4 0a1.7 1.7 0 1 0 -3.4 0zM175.84 500.38a1.7 1.7 0 1 0 3.4 0a1.7 1.7 0 1 0 -3.4 0zM179.28 516.35a1.7 1.7 0 1 0 3.4 0a1.7 1.7 0 1 0 -3.4 0zM182.73 470.43a1.7 1.7 0 1 0 3.4 0a1.7 1.7 0 1 0 -3.4 0zM186.17 521.9a1.7 1.7 0 1 0 3.4 0a1.7 1.7 0 1 0 -3.4 0zM189.61 508.81a1.7 1.7 0 1 0 3.4 0a1.7 1.7 0 1 0 -3.4 0zM193.05 521.9a1.7 1.7 0 1 0 3.4 0a1.7 1.7 0 1 0 -3.4 0zM196.49 505.7a1.7 1.7 0 1 0 3.4 0a1.7 1.7 0 1 0 -3.4 0zM199.93 521.9a1.7 1.7 0 1 0 3.4 0a1.7 1.7 0 1 0 -3.4 0zM203.38 515.24a1.7 1.7 0 1 0 3.4 0a1.7 1.7 0 1 0 -3.4 0zM206.82 516.79a1.7 1.7 0 1 0 3.4 0a1.7 1.7 0 1 0 -3.4 0zM210.26 514.13a1.7 1.7 0 1 0 3.4 0a1.7 1.7 0 1 0 -3.4 0z" stroke="#ff7480" stroke-width="0.8" fill="#fff"/>
</g>
<g clip-path="url(#ch)">
<g fill="#d2d2fb" stroke="#6a6aff" stroke-width="0.65"><rect x="224.01" y="514.13" width="2.07" height="9.47"/><rect x="227.45" y="422.74" width="2.07" height="100.86"/><rect x="230.9" y="452.02" width="2.07" height="71.58"/><rect x="234.34" y="488.62" width="2.07" height="34.98"/><rect x="237.78" y="511.25" width="2.07" height="12.35"/><rect x="241.23" y="482.63" width="2.07" height="40.97"/><rect x="244.67" y="481.3" width="2.07" height="42.3"/><rect x="248.11" y="456.9" width="2.07" height="66.7"/><rect x="251.56" y="496.39" width="2.07" height="27.21"/><rect x="255" y="518.57" width="2.07" height="5.03"/><rect x="258.44" y="509.7" width="2.07" height="13.9"/><rect x="261.89" y="459.78" width="2.07" height="63.82"/><rect x="265.33" y="514.58" width="2.07" height="9.02"/><rect x="268.77" y="502.6" width="2.07" height="21"/><rect x="272.22" y="497.5" width="2.07" height="26.1"/><rect x="275.66" y="482.63" width="2.07" height="40.97"/><rect x="279.1" y="506.37" width="2.07" height="17.23"/><rect x="282.55" y="483.74" width="2.07" height="39.86"/><rect x="285.99" y="468.66" width="2.07" height="54.94"/><rect x="289.43" y="508.59" width="2.07" height="15.01"/><rect x="292.88" y="474.87" width="2.07" height="48.73"/><rect x="296.32" y="493.72" width="2.07" height="29.88"/><rect x="299.77" y="495.94" width="2.07" height="27.66"/><rect x="303.21" y="498.6" width="2.07" height="25"/><rect x="306.65" y="500.82" width="2.07" height="22.78"/><rect x="310.1" y="504.15" width="2.07" height="19.45"/><rect x="313.54" y="482.18" width="2.07" height="41.42"/><rect x="316.98" y="469.4" width="2.07" height="54.2"/><rect x="320.43" y="490.71" width="2.07" height="32.89"/><rect x="323.87" y="502.37" width="2.07" height="21.23"/><rect x="327.31" y="466.49" width="2.07" height="57.11"/><rect x="330.76" y="462" width="2.07" height="61.6"/><rect x="334.2" y="471.64" width="2.07" height="51.96"/><rect x="337.64" y="479.94" width="2.07" height="43.66"/><rect x="341.09" y="507.53" width="2.07" height="16.07"/><rect x="344.53" y="497.43" width="2.07" height="26.17"/><rect x="347.97" y="466.04" width="2.07" height="57.56"/><rect x="351.42" y="482.18" width="2.07" height="41.42"/><rect x="354.86" y="488.91" width="2.07" height="34.69"/><rect x="358.3" y="475.01" width="2.07" height="48.59"/><rect x="361.75" y="466.04" width="2.07" height="57.56"/><rect x="365.19" y="445.4" width="2.07" height="78.2"/><rect x="368.63" y="453.7" width="2.07" height="69.9"/><rect x="372.08" y="472.32" width="2.07" height="51.28"/><rect x="375.52" y="471.64" width="2.07" height="51.96"/><rect x="378.96" y="495.19" width="2.07" height="28.41"/><rect x="382.41" y="503.04" width="2.07" height="20.56"/><rect x="385.85" y="497.88" width="2.07" height="25.72"/><rect x="389.29" y="500.8" width="2.07" height="22.8"/><rect x="392.74" y="492.5" width="2.07" height="31.1"/><rect x="396.18" y="481.74" width="2.07" height="41.86"/><rect x="399.62" y="477.25" width="2.07" height="46.35"/></g>
<path d="M223.34 520.12a1.7 1.7 0 1 0 3.4 0a1.7 1.7 0 1 0 -3.4 0zM226.79 520.12a1.7 1.7 0 1 0 3.4 0a1.7 1.7 0 1 0 -3.4 0zM230.23 510.14a1.7 1.7 0 1 0 3.4 0a1.7 1.7 0 1 0 -3.4 0zM233.67 476.42a1.7 1.7 0 1 0 3.4 0a1.7 1.7 0 1 0 -3.4 0zM237.12 414.75a1.7 1.7 0 1 0 3.4 0a1.7 1.7 0 1 0 -3.4 0zM240.56 513.47a1.7 1.7 0 1 0 3.4 0a1.7 1.7 0 1 0 -3.4 0zM244 521.9a1.7 1.7 0 1 0 3.4 0a1.7 1.7 0 1 0 -3.4 0zM247.45 521.9a1.7 1.7 0 1 0 3.4 0a1.7 1.7 0 1 0 -3.4 0zM250.89 487.07a1.7 1.7 0 1 0 3.4 0a1.7 1.7 0 1 0 -3.4 0zM254.33 515.24a1.7 1.7 0 1 0 3.4 0a1.7 1.7 0 1 0 -3.4 0zM257.78 520.12a1.7 1.7 0 1 0 3.4 0a1.7 1.7 0 1 0 -3.4 0zM261.22 521.9a1.7 1.7 0 1 0 3.4 0a1.7 1.7 0 1 0 -3.4 0zM264.66 505.92a1.7 1.7 0 1 0 3.4 0a1.7 1.7 0 1 0 -3.4 0zM268.11 494.17a1.7 1.7 0 1 0 3.4 0a1.7 1.7 0 1 0 -3.4 0zM271.55 507.92a1.7 1.7 0 1 0 3.4 0a1.7 1.7 0 1 0 -3.4 0zM274.99 496.83a1.7 1.7 0 1 0 3.4 0a1.7 1.7 0 1 0 -3.4 0zM278.44 505.92a1.7 1.7 0 1 0 3.4 0a1.7 1.7 0 1 0 -3.4 0zM281.88 477.53a1.7 1.7 0 1 0 3.4 0a1.7 1.7 0 1 0 -3.4 0zM285.32 467.1a1.7 1.7 0 1 0 3.4 0a1.7 1.7 0 1 0 -3.4 0zM288.77 498.16a1.7 1.7 0 1 0 3.4 0a1.7 1.7 0 1 0 -3.4 0zM292.21 504.82a1.7 1.7 0 1 0 3.4 0a1.7 1.7 0 1 0 -3.4 0zM295.65 520.34a1.7 1.7 0 1 0 3.4 0a1.7 1.7 0 1 0 -3.4 0zM299.1 505.7a1.7 1.7 0 1 0 3.4 0a1.7 1.7 0 1 0 -3.4 0zM302.54 518.13a1.7 1.7 0 1 0 3.4 0a1.7 1.7 0 1 0 -3.4 0zM305.98 521.9a1.7 1.7 0 1 0 3.4 0a1.7 1.7 0 1 0 -3.4 0zM309.43 492.61a1.7 1.7 0 1 0 3.4 0a1.7 1.7 0 1 0 -3.4 0zM312.87 497.88a1.7 1.7 0 1 0 3.4 0a1.7 1.7 0 1 0 -3.4 0zM316.32 522.1a1.7 1.7 0 1 0 3.4 0a1.7 1.7 0 1 0 -3.4 0zM319.76 462.22a1.7 1.7 0 1 0 3.4 0a1.7 1.7 0 1 0 -3.4 0zM323.2 481.06a1.7 1.7 0 1 0 3.4 0a1.7 1.7 0 1 0 -3.4 0zM326.65 490.26a1.7 1.7 0 1 0 3.4 0a1.7 1.7 0 1 0 -3.4 0zM330.09 522.1a1.7 1.7 0 1 0 3.4 0a1.7 1.7 0 1 0 -3.4 0zM333.53 505.28a1.7 1.7 0 1 0 3.4 0a1.7 1.7 0 1 0 -3.4 0zM336.98 521.65a1.7 1.7 0 1 0 3.4 0a1.7 1.7 0 1 0 -3.4 0zM340.42 431.28a1.7 1.7 0 1 0 3.4 0a1.7 1.7 0 1 0 -3.4 0zM343.86 488.46a1.7 1.7 0 1 0 3.4 0a1.7 1.7 0 1 0 -3.4 0zM347.31 505.28a1.7 1.7 0 1 0 3.4 0a1.7 1.7 0 1 0 -3.4 0zM350.75 497.88a1.7 1.7 0 1 0 3.4 0a1.7 1.7 0 1 0 -3.4 0zM354.19 516.95a1.7 1.7 0 1 0 3.4 0a1.7 1.7 0 1 0 -3.4 0zM357.64 522.1a1.7 1.7 0 1 0 3.4 0a1.7 1.7 0 1 0 -3.4 0zM361.08 505.28a1.7 1.7 0 1 0 3.4 0a1.7 1.7 0 1 0 -3.4 0zM364.52 489.58a1.7 1.7 0 1 0 3.4 0a1.7 1.7 0 1 0 -3.4 0zM367.97 501.25a1.7 1.7 0 1 0 3.4 0a1.7 1.7 0 1 0 -3.4 0zM371.41 477.7a1.7 1.7 0 1 0 3.4 0a1.7 1.7 0 1 0 -3.4 0zM374.85 521.65a1.7 1.7 0 1 0 3.4 0a1.7 1.7 0 1 0 -3.4 0zM378.3 494.74a1.7 1.7 0 1 0 3.4 0a1.7 1.7 0 1 0 -3.4 0zM381.74 520.98a1.7 1.7 0 1 0 3.4 0a1.7 1.7 0 1 0 -3.4 0zM385.18 481.29a1.7 1.7 0 1 0 3.4 0a1.7 1.7 0 1 0 -3.4 0zM388.63 520.98a1.7 1.7 0 1 0 3.4 0a1.7 1.7 0 1 0 -3.4 0zM392.07 481.74a1.7 1.7 0 1 0 3.4 0a1.7 1.7 0 1 0 -3.4 0zM395.51 477.25a1.7 1.7 0 1 0 3.4 0a1.7 1.7 0 1 0 -3.4 0zM398.96 516.95a1.7 1.7 0 1 0 3.4 0a1.7 1.7 0 1 0 -3.4 0z" stroke="#ff7480" stroke-width="0.8" fill="#fff"/>
</g>
<path d="M33 139v-3.5M33 17.4v3.5M50.21 139v-2.0M50.21 17.4v2.0M67.42 139v-3.5M67.42 17.4v3.5M84.62 139v-2.0M84.62 17.4v2.0M101.83 139v-3.5M101.83 17.4v3.5M119.04 139v-2.0M119.04 17.4v2.0M136.25 139v-3.5M136.25 17.4v3.5M153.45 139v-2.0M153.45 17.4v2.0M170.66 139v-3.5M170.66 17.4v3.5M187.87 139v-2.0M187.87 17.4v2.0M205.08 139v-3.5M205.08 17.4v3.5M33 137.04h2.0M215.4 137.04h-2.0M33 127.23h3.5M215.4 127.23h-3.5M33 117.43h2.0M215.4 117.43h-2.0M33 107.62h3.5M215.4 107.62h-3.5M33 97.81h2.0M215.4 97.81h-2.0M33 88.01h3.5M215.4 88.01h-3.5M33 78.2h2.0M215.4 78.2h-2.0M33 68.39h3.5M215.4 68.39h-3.5M33 58.59h2.0M215.4 58.59h-2.0M33 48.78h3.5M215.4 48.78h-3.5M33 38.97h2.0M215.4 38.97h-2.0M33 29.17h3.5M215.4 29.17h-3.5M33 19.36h2.0M215.4 19.36h-2.0" stroke="#333" stroke-width="0.9" fill="none"/>
<rect x="33.0" y="17.4" width="182.4" height="121.6" stroke="#333" stroke-width="1.2" fill="none"/>
<g font-size="7.1" text-anchor="end" fill="#222"><text transform="translate(29.3 129.23) scale(0.91 1)">50</text><text transform="translate(29.3 109.62) scale(0.91 1)">100</text><text transform="translate(29.3 90.01) scale(0.91 1)">150</text><text transform="translate(29.3 70.39) scale(0.91 1)">200</text><text transform="translate(29.3 50.78) scale(0.91 1)">250</text><text transform="translate(29.3 31.17) scale(0.91 1)">300</text></g>
<path d="M221.6 139v-3.5M221.6 17.4v3.5M238.82 139v-2.0M238.82 17.4v2.0M256.03 139v-3.5M256.03 17.4v3.5M273.25 139v-2.0M273.25 17.4v2.0M290.47 139v-3.5M290.47 17.4v3.5M307.68 139v-2.0M307.68 17.4v2.0M324.9 139v-3.5M324.9 17.4v3.5M342.12 139v-2.0M342.12 17.4v2.0M359.34 139v-3.5M359.34 17.4v3.5M376.55 139v-2.0M376.55 17.4v2.0M393.77 139v-3.5M393.77 17.4v3.5M221.6 137.04h2.0M404.1 137.04h-2.0M221.6 127.23h3.5M404.1 127.23h-3.5M221.6 117.43h2.0M404.1 117.43h-2.0M221.6 107.62h3.5M404.1 107.62h-3.5M221.6 97.81h2.0M404.1 97.81h-2.0M221.6 88.01h3.5M404.1 88.01h-3.5M221.6 78.2h2.0M404.1 78.2h-2.0M221.6 68.39h3.5M404.1 68.39h-3.5M221.6 58.59h2.0M404.1 58.59h-2.0M221.6 48.78h3.5M404.1 48.78h-3.5M221.6 38.97h2.0M404.1 38.97h-2.0M221.6 29.17h3.5M404.1 29.17h-3.5M221.6 19.36h2.0M404.1 19.36h-2.0" stroke="#333" stroke-width="0.9" fill="none"/>
<rect x="221.6" y="17.4" width="182.5" height="121.6" stroke="#333" stroke-width="1.2" fill="none"/>
<path d="M33 266.8v-3.5M33 145.4v3.5M50.21 266.8v-2.0M50.21 145.4v2.0M67.42 266.8v-3.5M67.42 145.4v3.5M84.62 266.8v-2.0M84.62 145.4v2.0M101.83 266.8v-3.5M101.83 145.4v3.5M119.04 266.8v-2.0M119.04 145.4v2.0M136.25 266.8v-3.5M136.25 145.4v3.5M153.45 266.8v-2.0M153.45 145.4v2.0M170.66 266.8v-3.5M170.66 145.4v3.5M187.87 266.8v-2.0M187.87 145.4v2.0M205.08 266.8v-3.5M205.08 145.4v3.5M33 259.81h2.0M215.4 259.81h-2.0M33 252.81h3.5M215.4 252.81h-3.5M33 245.82h2.0M215.4 245.82h-2.0M33 238.83h3.5M215.4 238.83h-3.5M33 231.83h2.0M215.4 231.83h-2.0M33 224.84h3.5M215.4 224.84h-3.5M33 217.85h2.0M215.4 217.85h-2.0M33 210.86h3.5M215.4 210.86h-3.5M33 203.86h2.0M215.4 203.86h-2.0M33 196.87h3.5M215.4 196.87h-3.5M33 189.88h2.0M215.4 189.88h-2.0M33 182.88h3.5M215.4 182.88h-3.5M33 175.89h2.0M215.4 175.89h-2.0M33 168.9h3.5M215.4 168.9h-3.5M33 161.9h2.0M215.4 161.9h-2.0M33 154.91h3.5M215.4 154.91h-3.5M33 147.92h2.0M215.4 147.92h-2.0" stroke="#333" stroke-width="0.9" fill="none"/>
<rect x="33.0" y="145.4" width="182.4" height="121.4" stroke="#333" stroke-width="1.2" fill="none"/>
<g font-size="7.1" text-anchor="end" fill="#222"><text transform="translate(29.3 268.8) scale(0.91 1)">-15</text><text transform="translate(29.3 254.81) scale(0.91 1)">-10</text><text transform="translate(29.3 240.83) scale(0.91 1)">-5</text><text transform="translate(29.3 226.84) scale(0.91 1)">0</text><text transform="translate(29.3 212.86) scale(0.91 1)">5</text><text transform="translate(29.3 198.87) scale(0.91 1)">10</text><text transform="translate(29.3 184.88) scale(0.91 1)">15</text><text transform="translate(29.3 170.9) scale(0.91 1)">20</text><text transform="translate(29.3 156.91) scale(0.91 1)">25</text></g>
<path d="M221.6 266.8v-3.5M221.6 145.4v3.5M238.82 266.8v-2.0M238.82 145.4v2.0M256.03 266.8v-3.5M256.03 145.4v3.5M273.25 266.8v-2.0M273.25 145.4v2.0M290.47 266.8v-3.5M290.47 145.4v3.5M307.68 266.8v-2.0M307.68 145.4v2.0M324.9 266.8v-3.5M324.9 145.4v3.5M342.12 266.8v-2.0M342.12 145.4v2.0M359.34 266.8v-3.5M359.34 145.4v3.5M376.55 266.8v-2.0M376.55 145.4v2.0M393.77 266.8v-3.5M393.77 145.4v3.5M221.6 259.81h2.0M404.1 259.81h-2.0M221.6 252.81h3.5M404.1 252.81h-3.5M221.6 245.82h2.0M404.1 245.82h-2.0M221.6 238.83h3.5M404.1 238.83h-3.5M221.6 231.83h2.0M404.1 231.83h-2.0M221.6 224.84h3.5M404.1 224.84h-3.5M221.6 217.85h2.0M404.1 217.85h-2.0M221.6 210.86h3.5M404.1 210.86h-3.5M221.6 203.86h2.0M404.1 203.86h-2.0M221.6 196.87h3.5M404.1 196.87h-3.5M221.6 189.88h2.0M404.1 189.88h-2.0M221.6 182.88h3.5M404.1 182.88h-3.5M221.6 175.89h2.0M404.1 175.89h-2.0M221.6 168.9h3.5M404.1 168.9h-3.5M221.6 161.9h2.0M404.1 161.9h-2.0M221.6 154.91h3.5M404.1 154.91h-3.5M221.6 147.92h2.0M404.1 147.92h-2.0" stroke="#333" stroke-width="0.9" fill="none"/>
<rect x="221.6" y="145.4" width="182.5" height="121.4" stroke="#333" stroke-width="1.2" fill="none"/>
<path d="M33 395v-3.5M33 273.2v3.5M50.21 395v-2.0M50.21 273.2v2.0M67.42 395v-3.5M67.42 273.2v3.5M84.62 395v-2.0M84.62 273.2v2.0M101.83 395v-3.5M101.83 273.2v3.5M119.04 395v-2.0M119.04 273.2v2.0M136.25 395v-3.5M136.25 273.2v3.5M153.45 395v-2.0M153.45 273.2v2.0M170.66 395v-3.5M170.66 273.2v3.5M187.87 395v-2.0M187.87 273.2v2.0M205.08 395v-3.5M205.08 273.2v3.5M33 389.2h2.0M215.4 389.2h-2.0M33 383.4h3.5M215.4 383.4h-3.5M33 377.6h2.0M215.4 377.6h-2.0M33 371.8h3.5M215.4 371.8h-3.5M33 366h2.0M215.4 366h-2.0M33 360.2h3.5M215.4 360.2h-3.5M33 354.4h2.0M215.4 354.4h-2.0M33 348.6h3.5M215.4 348.6h-3.5M33 342.8h2.0M215.4 342.8h-2.0M33 337h3.5M215.4 337h-3.5M33 331.2h2.0M215.4 331.2h-2.0M33 325.4h3.5M215.4 325.4h-3.5M33 319.6h2.0M215.4 319.6h-2.0M33 313.8h3.5M215.4 313.8h-3.5M33 308h2.0M215.4 308h-2.0M33 302.2h3.5M215.4 302.2h-3.5M33 296.4h2.0M215.4 296.4h-2.0M33 290.6h3.5M215.4 290.6h-3.5M33 284.8h2.0M215.4 284.8h-2.0M33 279h3.5M215.4 279h-3.5" stroke="#333" stroke-width="0.9" fill="none"/>
<rect x="33.0" y="273.2" width="182.4" height="121.8" stroke="#333" stroke-width="1.2" fill="none"/>
<g font-size="7.1" text-anchor="end" fill="#222"><text transform="translate(29.3 397) scale(0.91 1)">0</text><text transform="translate(29.3 385.4) scale(0.91 1)">2</text><text transform="translate(29.3 373.8) scale(0.91 1)">4</text><text transform="translate(29.3 362.2) scale(0.91 1)">6</text><text transform="translate(29.3 350.6) scale(0.91 1)">8</text><text transform="translate(29.3 339) scale(0.91 1)">10</text><text transform="translate(29.3 327.4) scale(0.91 1)">12</text><text transform="translate(29.3 315.8) scale(0.91 1)">14</text><text transform="translate(29.3 304.2) scale(0.91 1)">16</text><text transform="translate(29.3 292.6) scale(0.91 1)">18</text><text transform="translate(29.3 281) scale(0.91 1)">20</text></g>
<path d="M221.6 395v-3.5M221.6 273.2v3.5M238.82 395v-2.0M238.82 273.2v2.0M256.03 395v-3.5M256.03 273.2v3.5M273.25 395v-2.0M273.25 273.2v2.0M290.47 395v-3.5M290.47 273.2v3.5M307.68 395v-2.0M307.68 273.2v2.0M324.9 395v-3.5M324.9 273.2v3.5M342.12 395v-2.0M342.12 273.2v2.0M359.34 395v-3.5M359.34 273.2v3.5M376.55 395v-2.0M376.55 273.2v2.0M393.77 395v-3.5M393.77 273.2v3.5M221.6 389.2h2.0M404.1 389.2h-2.0M221.6 383.4h3.5M404.1 383.4h-3.5M221.6 377.6h2.0M404.1 377.6h-2.0M221.6 371.8h3.5M404.1 371.8h-3.5M221.6 366h2.0M404.1 366h-2.0M221.6 360.2h3.5M404.1 360.2h-3.5M221.6 354.4h2.0M404.1 354.4h-2.0M221.6 348.6h3.5M404.1 348.6h-3.5M221.6 342.8h2.0M404.1 342.8h-2.0M221.6 337h3.5M404.1 337h-3.5M221.6 331.2h2.0M404.1 331.2h-2.0M221.6 325.4h3.5M404.1 325.4h-3.5M221.6 319.6h2.0M404.1 319.6h-2.0M221.6 313.8h3.5M404.1 313.8h-3.5M221.6 308h2.0M404.1 308h-2.0M221.6 302.2h3.5M404.1 302.2h-3.5M221.6 296.4h2.0M404.1 296.4h-2.0M221.6 290.6h3.5M404.1 290.6h-3.5M221.6 284.8h2.0M404.1 284.8h-2.0M221.6 279h3.5M404.1 279h-3.5" stroke="#333" stroke-width="0.9" fill="none"/>
<rect x="221.6" y="273.2" width="182.5" height="121.8" stroke="#333" stroke-width="1.2" fill="none"/>
<path d="M33 522.6v-3.5M33 401.1v3.5M50.21 522.6v-2.0M50.21 401.1v2.0M67.42 522.6v-3.5M67.42 401.1v3.5M84.62 522.6v-2.0M84.62 401.1v2.0M101.83 522.6v-3.5M101.83 401.1v3.5M119.04 522.6v-2.0M119.04 401.1v2.0M136.25 522.6v-3.5M136.25 401.1v3.5M153.45 522.6v-2.0M153.45 401.1v2.0M170.66 522.6v-3.5M170.66 401.1v3.5M187.87 522.6v-2.0M187.87 401.1v2.0M205.08 522.6v-3.5M205.08 401.1v3.5M33 511.03h2.0M215.4 511.03h-2.0M33 499.46h3.5M215.4 499.46h-3.5M33 487.89h2.0M215.4 487.89h-2.0M33 476.31h3.5M215.4 476.31h-3.5M33 464.74h2.0M215.4 464.74h-2.0M33 453.17h3.5M215.4 453.17h-3.5M33 441.6h2.0M215.4 441.6h-2.0M33 430.03h3.5M215.4 430.03h-3.5M33 418.46h2.0M215.4 418.46h-2.0M33 406.89h3.5M215.4 406.89h-3.5" stroke="#333" stroke-width="0.9" fill="none"/>
<rect x="33.0" y="401.1" width="182.4" height="121.5" stroke="#333" stroke-width="1.2" fill="none"/>
<g font-size="7.1" text-anchor="end" fill="#222"><text transform="translate(29.3 524.6) scale(0.91 1)">0</text><text transform="translate(29.3 501.46) scale(0.91 1)">2</text><text transform="translate(29.3 478.31) scale(0.91 1)">4</text><text transform="translate(29.3 455.17) scale(0.91 1)">6</text><text transform="translate(29.3 432.03) scale(0.91 1)">8</text><text transform="translate(29.3 408.89) scale(0.91 1)">10</text></g>
<g font-size="7.1" text-anchor="middle" fill="#222"><text transform="translate(33 531.9) scale(0.91 1)">0</text><text transform="translate(67.42 531.9) scale(0.91 1)">10</text><text transform="translate(101.83 531.9) scale(0.91 1)">20</text><text transform="translate(136.25 531.9) scale(0.91 1)">30</text><text transform="translate(170.66 531.9) scale(0.91 1)">40</text><text transform="translate(205.08 531.9) scale(0.91 1)">50</text></g>
<path d="M221.6 522.6v-3.5M221.6 401.1v3.5M238.82 522.6v-2.0M238.82 401.1v2.0M256.03 522.6v-3.5M256.03 401.1v3.5M273.25 522.6v-2.0M273.25 401.1v2.0M290.47 522.6v-3.5M290.47 401.1v3.5M307.68 522.6v-2.0M307.68 401.1v2.0M324.9 522.6v-3.5M324.9 401.1v3.5M342.12 522.6v-2.0M342.12 401.1v2.0M359.34 522.6v-3.5M359.34 401.1v3.5M376.55 522.6v-2.0M376.55 401.1v2.0M393.77 522.6v-3.5M393.77 401.1v3.5M221.6 511.03h2.0M404.1 511.03h-2.0M221.6 499.46h3.5M404.1 499.46h-3.5M221.6 487.89h2.0M404.1 487.89h-2.0M221.6 476.31h3.5M404.1 476.31h-3.5M221.6 464.74h2.0M404.1 464.74h-2.0M221.6 453.17h3.5M404.1 453.17h-3.5M221.6 441.6h2.0M404.1 441.6h-2.0M221.6 430.03h3.5M404.1 430.03h-3.5M221.6 418.46h2.0M404.1 418.46h-2.0M221.6 406.89h3.5M404.1 406.89h-3.5" stroke="#333" stroke-width="0.9" fill="none"/>
<rect x="221.6" y="401.1" width="182.5" height="121.5" stroke="#333" stroke-width="1.2" fill="none"/>
<g font-size="7.1" text-anchor="middle" fill="#222"><text transform="translate(221.6 531.9) scale(0.91 1)">0</text><text transform="translate(256.03 531.9) scale(0.91 1)">10</text><text transform="translate(290.47 531.9) scale(0.91 1)">20</text><text transform="translate(324.9 531.9) scale(0.91 1)">30</text><text transform="translate(359.34 531.9) scale(0.91 1)">40</text><text transform="translate(393.77 531.9) scale(0.91 1)">50</text></g>
<text transform="translate(43.8 38.0) scale(0.97 1)" font-size="9" fill="#222">(a)</text>
<text transform="translate(234.7 38.1) scale(0.97 1)" font-size="9" fill="#222">(b)</text>
<text transform="translate(43.8 164.2) scale(0.97 1)" font-size="9" fill="#222">(c)</text>
<text transform="translate(234.7 164.2) scale(0.97 1)" font-size="9" fill="#222">(d)</text>
<text transform="translate(44.4 292.0) scale(0.97 1)" font-size="9" fill="#222">(e)</text>
<text transform="translate(235.8 291.0) scale(0.97 1)" font-size="9" fill="#222">(f)</text>
<text transform="translate(44.6 423.3) scale(0.97 1)" font-size="9" fill="#222">(g)</text>
<text transform="translate(236.0 421.6) scale(0.97 1)" font-size="9" fill="#222">(h)</text>
<text transform="translate(87.2 11.4) scale(0.95 1)" font-size="9" fill="#222">Forest ecosystem</text>
<text transform="translate(270.2 11.4) scale(0.95 1)" font-size="9" fill="#222">Grassland ecosystem</text>
<text transform="translate(124.3 546.1) scale(0.92 1)" font-size="9" text-anchor="middle" fill="#222">WOY</text>
<text transform="translate(312.5 546.1) scale(0.92 1)" font-size="9" text-anchor="middle" fill="#222">WOY</text>
<text transform="translate(11.8 84.5) scale(0.95 1) rotate(-90)" font-size="9" text-anchor="middle" fill="#222">Rg (W m<tspan font-size="5.5" dy="-3.5">-2</tspan><tspan dy="3.5">)</tspan></text>
<text transform="translate(13.3 212.7) scale(0.95 1) rotate(-90)" font-size="9" text-anchor="middle" fill="#222">Ta ( <tspan font-size="5.5" dy="-3.5">o</tspan><tspan dy="3.5">C)</tspan></text>
<text transform="translate(15.9 339.2) scale(0.95 1) rotate(-90)" font-size="9" text-anchor="middle" fill="#222">VPD ( hPa)</text>
<text transform="translate(16.3 468.9) scale(0.95 1) rotate(-90)" font-size="9" text-anchor="middle" fill="#222">Pre (mm d<tspan font-size="5.5" dy="-3.5">-1</tspan><tspan dy="3.5">)</tspan></text>
<path d="M80.9 109.0H86.55M93.65 109.0H99.9" stroke="#8a8aff" stroke-width="0.8"/><path d="M80.9 119.5H86.5M93.7 119.5H99.9" stroke="#ff8c8c" stroke-width="0.8"/><rect x="88.25" y="107.15" width="3.7" height="3.7" stroke="#6a6aff" stroke-width="0.65" fill="none"/><circle cx="90.1" cy="119.5" r="2.0" stroke="#ff7480" stroke-width="0.65" fill="none"/><text transform="translate(102.6 112) scale(0.955 1)" font-size="9" fill="#222">Multi-year mean</text><text transform="translate(102.6 122.5) scale(0.955 1)" font-size="9" fill="#222">Drought 2003</text>
<path d="M269.4 107.6H276.95M280.65 107.6H288.4" stroke="#8a8aff" stroke-width="0.8"/><path d="M269.4 118.3H276.8M280.8 118.3H288.4" stroke="#ff8c8c" stroke-width="0.8"/><rect x="276.95" y="105.75" width="3.7" height="3.7" stroke="#6a6aff" stroke-width="0.65" fill="none"/><circle cx="278.8" cy="118.3" r="2.0" stroke="#ff7480" stroke-width="0.65" fill="none"/><text transform="translate(291.1 110.6) scale(0.955 1)" font-size="9" fill="#222">Multi-year mean</text><text transform="translate(291.1 121.3) scale(0.955 1)" font-size="9" fill="#222">Drought 2003</text>
</svg>
</body></html>
